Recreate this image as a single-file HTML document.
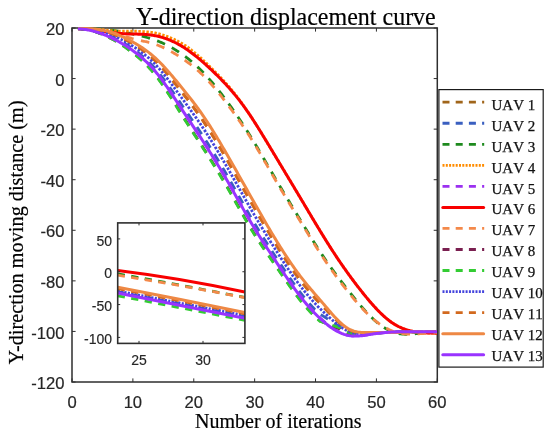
<!DOCTYPE html>
<html><head><meta charset="utf-8"><style>
html,body{margin:0;padding:0;background:#fff;}
svg{display:block;filter:blur(0.3px);}
.tl{font-family:'Liberation Sans',Arial,sans-serif;font-size:16.6px;fill:#262626;stroke:#262626;stroke-width:0.2px;}
.ti{font-family:'Liberation Sans',Arial,sans-serif;font-size:14px;fill:#262626;stroke:#262626;stroke-width:0.15px;}
.lg{font-family:'Liberation Serif','Times New Roman',serif;font-size:15px;fill:#111;stroke:#111;stroke-width:0.25px;font-kerning:none;}
.se{font-family:'Liberation Serif','Times New Roman',serif;fill:#000;stroke:#000;stroke-width:0.2px;}
</style></head><body>
<svg width="550" height="433" viewBox="0 0 550 433">
<rect width="550" height="433" fill="#fff"/>
<defs><clipPath id="cm"><rect x="72.0" y="27.3" width="365.30" height="354.7"/></clipPath>
<clipPath id="ci"><rect x="117.7" y="222.9" width="127.20" height="120.50"/></clipPath></defs>
<g stroke="#2e2e2e" stroke-width="1">
<line x1="72.00" y1="382.0" x2="72.00" y2="378.4" />
<line x1="72.00" y1="28.0" x2="72.00" y2="31.6" />
<line x1="132.88" y1="382.0" x2="132.88" y2="378.4" />
<line x1="132.88" y1="28.0" x2="132.88" y2="31.6" />
<line x1="193.77" y1="382.0" x2="193.77" y2="378.4" />
<line x1="193.77" y1="28.0" x2="193.77" y2="31.6" />
<line x1="254.65" y1="382.0" x2="254.65" y2="378.4" />
<line x1="254.65" y1="28.0" x2="254.65" y2="31.6" />
<line x1="315.53" y1="382.0" x2="315.53" y2="378.4" />
<line x1="315.53" y1="28.0" x2="315.53" y2="31.6" />
<line x1="376.42" y1="382.0" x2="376.42" y2="378.4" />
<line x1="376.42" y1="28.0" x2="376.42" y2="31.6" />
<line x1="437.30" y1="382.0" x2="437.30" y2="378.4" />
<line x1="437.30" y1="28.0" x2="437.30" y2="31.6" />
<line x1="72.0" y1="28.00" x2="75.6" y2="28.00" />
<line x1="437.3" y1="28.00" x2="433.7" y2="28.00" />
<line x1="72.0" y1="78.57" x2="75.6" y2="78.57" />
<line x1="437.3" y1="78.57" x2="433.7" y2="78.57" />
<line x1="72.0" y1="129.14" x2="75.6" y2="129.14" />
<line x1="437.3" y1="129.14" x2="433.7" y2="129.14" />
<line x1="72.0" y1="179.71" x2="75.6" y2="179.71" />
<line x1="437.3" y1="179.71" x2="433.7" y2="179.71" />
<line x1="72.0" y1="230.29" x2="75.6" y2="230.29" />
<line x1="437.3" y1="230.29" x2="433.7" y2="230.29" />
<line x1="72.0" y1="280.86" x2="75.6" y2="280.86" />
<line x1="437.3" y1="280.86" x2="433.7" y2="280.86" />
<line x1="72.0" y1="331.43" x2="75.6" y2="331.43" />
<line x1="437.3" y1="331.43" x2="433.7" y2="331.43" />
<line x1="72.0" y1="382.00" x2="75.6" y2="382.00" />
<line x1="437.3" y1="382.00" x2="433.7" y2="382.00" />
</g>
<rect x="72.0" y="28.0" width="365.30" height="354.0" fill="none" stroke="#2e2e2e" stroke-width="1.5"/>
<g clip-path="url(#cm)">
<path d="M78.00,28.34 L79.00,28.36 L80.00,28.38 L81.00,28.41 L82.00,28.44 L83.00,28.48 L84.00,28.53 L85.00,28.58 L86.00,28.64 L87.00,28.71 L88.00,28.78 L89.00,28.86 L90.00,28.96 L91.00,29.06 L92.00,29.17 L93.00,29.28 L94.00,29.41 L95.00,29.55 L96.00,29.70 L97.00,29.86 L98.00,30.03 L99.00,30.21 L100.00,30.40 L101.00,30.61 L102.00,30.82 L103.00,31.05 L104.00,31.29 L105.00,31.55 L106.00,31.81 L107.00,32.09 L108.00,32.39 L109.00,32.70 L110.00,33.02 L111.00,33.36 L112.00,33.71 L113.00,34.07 L114.00,34.45 L115.00,34.84 L116.00,35.24 L117.00,35.66 L118.00,36.08 L119.00,36.52 L120.00,36.98 L121.00,37.44 L122.00,37.91 L123.00,38.40 L124.00,38.90 L125.00,39.41 L126.00,39.93 L127.00,40.45 L128.00,40.99 L129.00,41.54 L130.00,42.10 L131.00,42.67 L132.00,43.25 L133.00,43.84 L134.00,44.44 L135.00,45.05 L136.00,45.67 L137.00,46.30 L138.00,46.94 L139.00,47.60 L140.00,48.27 L141.00,48.96 L142.00,49.66 L143.00,50.37 L144.00,51.10 L145.00,51.85 L146.00,52.62 L147.00,53.40 L148.00,54.20 L149.00,55.02 L150.00,55.86 L151.00,56.72 L152.00,57.60 L153.00,58.51 L154.00,59.43 L155.00,60.38 L156.00,61.35 L157.00,62.35 L158.00,63.36 L159.00,64.41 L160.00,65.47 L161.00,66.55 L162.00,67.65 L163.00,68.77 L164.00,69.91 L165.00,71.06 L166.00,72.23 L167.00,73.41 L168.00,74.61 L169.00,75.82 L170.00,77.04 L171.00,78.27 L172.00,79.51 L173.00,80.76 L174.00,82.02 L175.00,83.28 L176.00,84.55 L177.00,85.82 L178.00,87.10 L179.00,88.38 L180.00,89.66 L181.00,90.95 L182.00,92.23 L183.00,93.52 L184.00,94.81 L185.00,96.10 L186.00,97.39 L187.00,98.70 L188.00,100.00 L189.00,101.31 L190.00,102.63 L191.00,103.96 L192.00,105.29 L193.00,106.63 L194.00,107.99 L195.00,109.35 L196.00,110.72 L197.00,112.10 L198.00,113.50 L199.00,114.90 L200.00,116.32 L201.00,117.76 L202.00,119.21 L203.00,120.67 L204.00,122.15 L205.00,123.64 L206.00,125.16 L207.00,126.68 L208.00,128.22 L209.00,129.78 L210.00,131.35 L211.00,132.93 L212.00,134.53 L213.00,136.14 L214.00,137.76 L215.00,139.39 L216.00,141.04 L217.00,142.69 L218.00,144.35 L219.00,146.03 L220.00,147.71 L221.00,149.40 L222.00,151.10 L223.00,152.81 L224.00,154.53 L225.00,156.25 L226.00,157.98 L227.00,159.71 L228.00,161.45 L229.00,163.19 L230.00,164.94 L231.00,166.70 L232.00,168.45 L233.00,170.21 L234.00,171.98 L235.00,173.74 L236.00,175.51 L237.00,177.28 L238.00,179.05 L239.00,180.82 L240.00,182.60 L241.00,184.37 L242.00,186.14 L243.00,187.92 L244.00,189.69 L245.00,191.46 L246.00,193.23 L247.00,195.00 L248.00,196.77 L249.00,198.53 L250.00,200.29 L251.00,202.05 L252.00,203.81 L253.00,205.56 L254.00,207.30 L255.00,209.05 L256.00,210.78 L257.00,212.52 L258.00,214.24 L259.00,215.97 L260.00,217.68 L261.00,219.40 L262.00,221.10 L263.00,222.81 L264.00,224.50 L265.00,226.19 L266.00,227.87 L267.00,229.55 L268.00,231.22 L269.00,232.89 L270.00,234.54 L271.00,236.19 L272.00,237.84 L273.00,239.47 L274.00,241.10 L275.00,242.72 L276.00,244.34 L277.00,245.94 L278.00,247.54 L279.00,249.13 L280.00,250.71 L281.00,252.28 L282.00,253.84 L283.00,255.39 L284.00,256.93 L285.00,258.46 L286.00,259.98 L287.00,261.48 L288.00,262.98 L289.00,264.46 L290.00,265.93 L291.00,267.38 L292.00,268.83 L293.00,270.25 L294.00,271.67 L295.00,273.07 L296.00,274.45 L297.00,275.82 L298.00,277.17 L299.00,278.51 L300.00,279.83 L301.00,281.13 L302.00,282.42 L303.00,283.69 L304.00,284.94 L305.00,286.19 L306.00,287.41 L307.00,288.63 L308.00,289.83 L309.00,291.02 L310.00,292.20 L311.00,293.38 L312.00,294.54 L313.00,295.69 L314.00,296.84 L315.00,297.98 L316.00,299.11 L317.00,300.24 L318.00,301.36 L319.00,302.39 L320.00,303.41 L321.00,304.43 L322.00,305.46 L323.00,306.48 L324.00,307.51 L325.00,308.55 L326.00,309.58 L327.00,310.62 L328.00,311.65 L329.00,312.68 L330.00,313.71 L331.00,314.73 L332.00,315.74 L333.00,316.74 L334.00,317.72 L335.00,318.69 L336.00,319.64 L337.00,320.57 L338.00,321.48 L339.00,322.42 L340.00,323.33 L341.00,324.20 L342.00,325.04 L343.00,325.84 L344.00,326.60 L345.00,327.32 L346.00,327.99 L347.00,328.61 L348.00,329.18 L349.00,329.70 L350.00,330.17 L351.00,330.60 L352.00,330.98 L353.00,331.31 L354.00,331.61 L355.00,331.87 L356.00,332.09 L357.00,332.28 L358.00,332.43 L359.00,332.56 L360.00,332.67 L361.00,332.74 L362.00,332.80 L363.00,332.84 L364.00,332.86 L365.00,332.86 L366.00,332.85 L367.00,332.84 L368.00,332.81 L369.00,332.78 L370.00,332.75 L371.00,332.71 L372.00,332.68 L373.00,332.65 L374.00,332.62 L375.00,332.60 L376.00,332.58 L377.00,332.57 L378.00,332.55 L379.00,332.54 L380.00,332.53 L381.00,332.52 L382.00,332.52 L383.00,332.51 L384.00,332.51 L385.00,332.50 L386.00,332.50 L387.00,332.50 L388.00,332.49 L389.00,332.49 L390.00,332.48 L391.00,332.48 L392.00,332.47 L393.00,332.46 L394.00,332.44 L395.00,332.43 L396.00,332.41 L397.00,332.39 L398.00,332.37 L399.00,332.34 L400.00,332.32 L401.00,332.29 L402.00,332.25 L403.00,332.22 L404.00,332.19 L405.00,332.15 L406.00,332.12 L407.00,332.08 L408.00,332.05 L409.00,332.01 L410.00,331.97 L411.00,331.94 L412.00,331.91 L413.00,331.87 L414.00,331.84 L415.00,331.81 L416.00,331.79 L417.00,331.76 L418.00,331.74 L419.00,331.72 L420.00,331.70 L421.00,331.69 L422.00,331.68 L423.00,331.67 L424.00,331.66 L425.00,331.66 L426.00,331.66 L427.00,331.66 L428.00,331.67 L429.00,331.67 L430.00,331.68 L431.00,331.69 L432.00,331.70 L433.00,331.71 L434.00,331.72 L435.00,331.73 L436.00,331.74 L437.00,331.75" fill="none" stroke="#a0651a" stroke-width="2.8" stroke-dasharray="8.54 7.56" stroke-linejoin="round"/>
<path d="M78.00,28.59 L79.00,28.64 L80.00,28.71 L81.00,28.78 L82.00,28.86 L83.00,28.96 L84.00,29.07 L85.00,29.19 L86.00,29.32 L87.00,29.46 L88.00,29.62 L89.00,29.79 L90.00,29.97 L91.00,30.17 L92.00,30.38 L93.00,30.59 L94.00,30.83 L95.00,31.07 L96.00,31.33 L97.00,31.59 L98.00,31.87 L99.00,32.17 L100.00,32.47 L101.00,32.78 L102.00,33.11 L103.00,33.45 L104.00,33.80 L105.00,34.17 L106.00,34.54 L107.00,34.93 L108.00,35.32 L109.00,35.73 L110.00,36.15 L111.00,36.59 L112.00,37.03 L113.00,37.48 L114.00,37.95 L115.00,38.43 L116.00,38.92 L117.00,39.42 L118.00,39.93 L119.00,40.46 L120.00,40.99 L121.00,41.54 L122.00,42.10 L123.00,42.67 L124.00,43.25 L125.00,43.84 L126.00,44.45 L127.00,45.06 L128.00,45.69 L129.00,46.33 L130.00,46.98 L131.00,47.64 L132.00,48.32 L133.00,49.00 L134.00,49.70 L135.00,50.41 L136.00,51.13 L137.00,51.87 L138.00,52.62 L139.00,53.39 L140.00,54.18 L141.00,54.98 L142.00,55.80 L143.00,56.63 L144.00,57.49 L145.00,58.37 L146.00,59.26 L147.00,60.18 L148.00,61.12 L149.00,62.08 L150.00,63.07 L151.00,64.07 L152.00,65.11 L153.00,66.16 L154.00,67.25 L155.00,68.36 L156.00,69.50 L157.00,70.66 L158.00,71.85 L159.00,73.07 L160.00,74.31 L161.00,75.58 L162.00,76.87 L163.00,78.18 L164.00,79.50 L165.00,80.85 L166.00,82.21 L167.00,83.59 L168.00,84.98 L169.00,86.38 L170.00,87.80 L171.00,89.22 L172.00,90.66 L173.00,92.10 L174.00,93.55 L175.00,95.01 L176.00,96.46 L177.00,97.92 L178.00,99.39 L179.00,100.85 L180.00,102.31 L181.00,103.77 L182.00,105.22 L183.00,106.67 L184.00,108.13 L185.00,109.58 L186.00,111.03 L187.00,112.48 L188.00,113.93 L189.00,115.39 L190.00,116.84 L191.00,118.30 L192.00,119.75 L193.00,121.22 L194.00,122.68 L195.00,124.15 L196.00,125.63 L197.00,127.10 L198.00,128.59 L199.00,130.08 L200.00,131.58 L201.00,133.08 L202.00,134.59 L203.00,136.11 L204.00,137.64 L205.00,139.18 L206.00,140.72 L207.00,142.28 L208.00,143.84 L209.00,145.41 L210.00,146.99 L211.00,148.59 L212.00,150.18 L213.00,151.79 L214.00,153.41 L215.00,155.03 L216.00,156.67 L217.00,158.31 L218.00,159.96 L219.00,161.62 L220.00,163.29 L221.00,164.96 L222.00,166.65 L223.00,168.34 L224.00,170.04 L225.00,171.75 L226.00,173.47 L227.00,175.19 L228.00,176.92 L229.00,178.67 L230.00,180.42 L231.00,182.17 L232.00,183.93 L233.00,185.70 L234.00,187.47 L235.00,189.24 L236.00,191.02 L237.00,192.79 L238.00,194.57 L239.00,196.35 L240.00,198.13 L241.00,199.90 L242.00,201.67 L243.00,203.44 L244.00,205.21 L245.00,206.97 L246.00,208.72 L247.00,210.47 L248.00,212.21 L249.00,213.94 L250.00,215.66 L251.00,217.37 L252.00,219.07 L253.00,220.76 L254.00,222.43 L255.00,224.10 L256.00,225.75 L257.00,227.40 L258.00,229.03 L259.00,230.66 L260.00,232.27 L261.00,233.88 L262.00,235.48 L263.00,237.07 L264.00,238.65 L265.00,240.23 L266.00,241.80 L267.00,243.36 L268.00,244.92 L269.00,246.48 L270.00,248.02 L271.00,249.57 L272.00,251.11 L273.00,252.65 L274.00,254.18 L275.00,255.71 L276.00,257.24 L277.00,258.77 L278.00,260.30 L279.00,261.82 L280.00,263.34 L281.00,264.85 L282.00,266.37 L283.00,267.87 L284.00,269.37 L285.00,270.86 L286.00,272.35 L287.00,273.82 L288.00,275.29 L289.00,276.75 L290.00,278.20 L291.00,279.64 L292.00,281.06 L293.00,282.48 L294.00,283.88 L295.00,285.27 L296.00,286.64 L297.00,288.00 L298.00,289.34 L299.00,290.67 L300.00,291.98 L301.00,293.28 L302.00,294.55 L303.00,295.81 L304.00,297.05 L305.00,298.28 L306.00,299.49 L307.00,300.68 L308.00,301.85 L309.00,303.01 L310.00,304.15 L311.00,305.28 L312.00,306.38 L313.00,307.48 L314.00,308.55 L315.00,309.62 L316.00,310.66 L317.00,311.69 L318.00,312.71 L319.00,313.38 L320.00,314.04 L321.00,314.70 L322.00,315.35 L323.00,316.00 L324.00,316.65 L325.00,317.29 L326.00,317.94 L327.00,318.58 L328.00,319.23 L329.00,319.87 L330.00,320.51 L331.00,321.15 L332.00,321.78 L333.00,322.41 L334.00,323.04 L335.00,323.66 L336.00,324.27 L337.00,324.87 L338.00,325.46 L339.00,326.23 L340.00,326.97 L341.00,327.68 L342.00,328.36 L343.00,329.00 L344.00,329.60 L345.00,330.16 L346.00,330.68 L347.00,331.17 L348.00,331.60 L349.00,332.00 L350.00,332.35 L351.00,332.65 L352.00,332.92 L353.00,333.15 L354.00,333.35 L355.00,333.51 L356.00,333.65 L357.00,333.75 L358.00,333.83 L359.00,333.88 L360.00,333.91 L361.00,333.92 L362.00,333.91 L363.00,333.88 L364.00,333.84 L365.00,333.79 L366.00,333.72 L367.00,333.65 L368.00,333.58 L369.00,333.50 L370.00,333.41 L371.00,333.33 L372.00,333.25 L373.00,333.17 L374.00,333.10 L375.00,333.03 L376.00,332.97 L377.00,332.91 L378.00,332.85 L379.00,332.79 L380.00,332.74 L381.00,332.70 L382.00,332.65 L383.00,332.61 L384.00,332.57 L385.00,332.53 L386.00,332.49 L387.00,332.46 L388.00,332.43 L389.00,332.40 L390.00,332.37 L391.00,332.34 L392.00,332.31 L393.00,332.28 L394.00,332.26 L395.00,332.23 L396.00,332.20 L397.00,332.18 L398.00,332.15 L399.00,332.13 L400.00,332.10 L401.00,332.07 L402.00,332.05 L403.00,332.02 L404.00,332.00 L405.00,331.98 L406.00,331.95 L407.00,331.93 L408.00,331.91 L409.00,331.89 L410.00,331.87 L411.00,331.85 L412.00,331.83 L413.00,331.81 L414.00,331.79 L415.00,331.78 L416.00,331.76 L417.00,331.75 L418.00,331.74 L419.00,331.73 L420.00,331.72 L421.00,331.72 L422.00,331.71 L423.00,331.71 L424.00,331.70 L425.00,331.70 L426.00,331.70 L427.00,331.70 L428.00,331.70 L429.00,331.70 L430.00,331.71 L431.00,331.71 L432.00,331.71 L433.00,331.72 L434.00,331.72 L435.00,331.73 L436.00,331.73 L437.00,331.74" fill="none" stroke="#3a5fc0" stroke-width="2.8" stroke-dasharray="8.54 7.56" stroke-linejoin="round"/>
<path d="M78.00,28.53 L79.00,28.55 L80.00,28.58 L81.00,28.60 L82.00,28.62 L83.00,28.64 L84.00,28.66 L85.00,28.68 L86.00,28.71 L87.00,28.73 L88.00,28.75 L89.00,28.77 L90.00,28.79 L91.00,28.82 L92.00,28.85 L93.00,28.87 L94.00,28.91 L95.00,28.94 L96.00,28.98 L97.00,29.02 L98.00,29.06 L99.00,29.11 L100.00,29.17 L101.00,29.22 L102.00,29.29 L103.00,29.35 L104.00,29.43 L105.00,29.51 L106.00,29.60 L107.00,29.69 L108.00,29.79 L109.00,29.90 L110.00,30.01 L111.00,30.13 L112.00,30.26 L113.00,30.40 L114.00,30.54 L115.00,30.69 L116.00,30.84 L117.00,31.00 L118.00,31.16 L119.00,31.33 L120.00,31.51 L121.00,31.68 L122.00,31.87 L123.00,32.05 L124.00,32.24 L125.00,32.44 L126.00,32.63 L127.00,32.84 L128.00,33.04 L129.00,33.24 L130.00,33.45 L131.00,33.66 L132.00,33.88 L133.00,34.09 L134.00,34.31 L135.00,34.53 L136.00,34.75 L137.00,34.97 L138.00,35.20 L139.00,35.44 L140.00,35.67 L141.00,35.92 L142.00,36.16 L143.00,36.42 L144.00,36.68 L145.00,36.94 L146.00,37.21 L147.00,37.49 L148.00,37.78 L149.00,38.08 L150.00,38.38 L151.00,38.69 L152.00,39.02 L153.00,39.35 L154.00,39.69 L155.00,40.04 L156.00,40.40 L157.00,40.78 L158.00,41.16 L159.00,41.56 L160.00,41.97 L161.00,42.39 L162.00,42.82 L163.00,43.26 L164.00,43.72 L165.00,44.19 L166.00,44.67 L167.00,45.16 L168.00,45.67 L169.00,46.19 L170.00,46.72 L171.00,47.27 L172.00,47.82 L173.00,48.39 L174.00,48.98 L175.00,49.58 L176.00,50.19 L177.00,50.82 L178.00,51.46 L179.00,52.11 L180.00,52.78 L181.00,53.46 L182.00,54.16 L183.00,54.87 L184.00,55.60 L185.00,56.34 L186.00,57.09 L187.00,57.87 L188.00,58.65 L189.00,59.45 L190.00,60.27 L191.00,61.10 L192.00,61.95 L193.00,62.81 L194.00,63.69 L195.00,64.59 L196.00,65.50 L197.00,66.42 L198.00,67.36 L199.00,68.32 L200.00,69.30 L201.00,70.29 L202.00,71.30 L203.00,72.32 L204.00,73.36 L205.00,74.42 L206.00,75.49 L207.00,76.58 L208.00,77.69 L209.00,78.81 L210.00,79.94 L211.00,81.10 L212.00,82.26 L213.00,83.44 L214.00,84.64 L215.00,85.85 L216.00,87.07 L217.00,88.31 L218.00,89.56 L219.00,90.82 L220.00,92.10 L221.00,93.39 L222.00,94.69 L223.00,96.00 L224.00,97.33 L225.00,98.66 L226.00,100.01 L227.00,101.37 L228.00,102.74 L229.00,104.12 L230.00,105.50 L231.00,106.90 L232.00,108.31 L233.00,109.74 L234.00,111.17 L235.00,112.61 L236.00,114.06 L237.00,115.52 L238.00,117.00 L239.00,118.48 L240.00,119.98 L241.00,121.48 L242.00,123.00 L243.00,124.53 L244.00,126.07 L245.00,127.62 L246.00,129.18 L247.00,130.75 L248.00,132.33 L249.00,133.92 L250.00,135.53 L251.00,137.15 L252.00,138.77 L253.00,140.41 L254.00,142.06 L255.00,143.72 L256.00,145.38 L257.00,147.06 L258.00,148.74 L259.00,150.44 L260.00,152.13 L261.00,153.83 L262.00,155.54 L263.00,157.25 L264.00,158.97 L265.00,160.69 L266.00,162.41 L267.00,164.13 L268.00,165.85 L269.00,167.58 L270.00,169.30 L271.00,171.02 L272.00,172.74 L273.00,174.46 L274.00,176.17 L275.00,177.88 L276.00,179.58 L277.00,181.28 L278.00,182.98 L279.00,184.66 L280.00,186.35 L281.00,188.03 L282.00,189.70 L283.00,191.38 L284.00,193.04 L285.00,194.71 L286.00,196.37 L287.00,198.03 L288.00,199.68 L289.00,201.34 L290.00,202.99 L291.00,204.64 L292.00,206.28 L293.00,207.93 L294.00,209.57 L295.00,211.22 L296.00,212.86 L297.00,214.50 L298.00,216.15 L299.00,217.79 L300.00,219.43 L301.00,221.07 L302.00,222.72 L303.00,224.36 L304.00,226.00 L305.00,227.64 L306.00,229.27 L307.00,230.91 L308.00,232.54 L309.00,234.16 L310.00,235.78 L311.00,237.39 L312.00,239.00 L313.00,240.60 L314.00,242.20 L315.00,243.78 L316.00,245.36 L317.00,246.93 L318.00,248.49 L319.00,250.03 L320.00,251.57 L321.00,253.10 L322.00,254.61 L323.00,256.11 L324.00,257.59 L325.00,259.07 L326.00,260.52 L327.00,261.97 L328.00,263.40 L329.00,264.82 L330.00,266.23 L331.00,267.63 L332.00,269.01 L333.00,270.39 L334.00,271.75 L335.00,273.11 L336.00,274.46 L337.00,275.80 L338.00,277.13 L339.00,278.45 L340.00,279.76 L341.00,281.07 L342.00,282.38 L343.00,283.67 L344.00,284.97 L345.00,286.25 L346.00,287.54 L347.00,288.81 L348.00,290.09 L349.00,291.36 L350.00,292.63 L351.00,293.90 L352.00,295.15 L353.00,296.41 L354.00,297.65 L355.00,298.89 L356.00,300.12 L357.00,301.33 L358.00,302.54 L359.00,303.74 L360.00,304.92 L361.00,306.09 L362.00,307.25 L363.00,308.39 L364.00,309.52 L365.00,310.63 L366.00,311.72 L367.00,312.79 L368.00,313.85 L369.00,314.88 L370.00,315.90 L371.00,316.89 L372.00,317.86 L373.00,318.80 L374.00,319.73 L375.00,320.63 L376.00,321.50 L377.00,322.35 L378.00,323.17 L379.00,323.97 L380.00,324.74 L381.00,325.48 L382.00,326.19 L383.00,326.88 L384.00,327.54 L385.00,328.17 L386.00,328.77 L387.00,329.34 L388.00,329.88 L389.00,330.39 L390.00,330.87 L391.00,331.31 L392.00,331.73 L393.00,332.11 L394.00,332.46 L395.00,332.77 L396.00,333.05 L397.00,333.30 L398.00,333.51 L399.00,333.70 L400.00,333.85 L401.00,333.98 L402.00,334.08 L403.00,334.15 L404.00,334.20 L405.00,334.23 L406.00,334.25 L407.00,334.24 L408.00,334.22 L409.00,334.18 L410.00,334.14 L411.00,334.08 L412.00,334.01 L413.00,333.93 L414.00,333.85 L415.00,333.76 L416.00,333.67 L417.00,333.58 L418.00,333.49 L419.00,333.41 L420.00,333.32 L421.00,333.25 L422.00,333.18 L423.00,333.11 L424.00,333.05 L425.00,332.99 L426.00,332.94 L427.00,332.89 L428.00,332.85 L429.00,332.81 L430.00,332.78 L431.00,332.75 L432.00,332.72 L433.00,332.70 L434.00,332.68 L435.00,332.66 L436.00,332.64 L437.00,332.63" fill="none" stroke="#1e8a1e" stroke-width="2.8" stroke-dasharray="8.54 7.56" stroke-linejoin="round"/>
<path d="M78.00,28.63 L79.00,28.62 L80.00,28.62 L81.00,28.62 L82.00,28.62 L83.00,28.63 L84.00,28.65 L85.00,28.66 L86.00,28.69 L87.00,28.71 L88.00,28.74 L89.00,28.78 L90.00,28.82 L91.00,28.86 L92.00,28.91 L93.00,28.96 L94.00,29.02 L95.00,29.08 L96.00,29.14 L97.00,29.21 L98.00,29.28 L99.00,29.35 L100.00,29.42 L101.00,29.53 L102.00,29.64 L103.00,29.76 L104.00,29.87 L105.00,29.98 L106.00,30.10 L107.00,30.21 L108.00,30.32 L109.00,30.43 L110.00,30.53 L111.00,30.60 L112.00,30.67 L113.00,30.74 L114.00,30.80 L115.00,30.86 L116.00,30.91 L117.00,30.96 L118.00,31.00 L119.00,31.03 L120.00,31.06 L121.00,31.09 L122.00,31.12 L123.00,31.13 L124.00,31.14 L125.00,31.14 L126.00,31.14 L127.00,31.13 L128.00,31.11 L129.00,31.09 L130.00,31.07 L131.00,31.10 L132.00,31.13 L133.00,31.16 L134.00,31.19 L135.00,31.22 L136.00,31.25 L137.00,31.28 L138.00,31.31 L139.00,31.35 L140.00,31.39 L141.00,31.44 L142.00,31.49 L143.00,31.55 L144.00,31.61 L145.00,31.69 L146.00,31.77 L147.00,31.86 L148.00,31.96 L149.00,32.07 L150.00,32.20 L151.00,32.33 L152.00,32.47 L153.00,32.63 L154.00,32.80 L155.00,32.99 L156.00,33.20 L157.00,33.41 L158.00,33.65 L159.00,33.89 L160.00,34.16 L161.00,34.43 L162.00,34.73 L163.00,35.03 L164.00,35.36 L165.00,35.69 L166.00,36.05 L167.00,36.42 L168.00,36.80 L169.00,37.20 L170.00,37.61 L171.00,38.02 L172.00,38.45 L173.00,38.89 L174.00,39.34 L175.00,39.81 L176.00,40.30 L177.00,40.80 L178.00,41.32 L179.00,41.86 L180.00,42.41 L181.00,42.97 L182.00,43.55 L183.00,44.15 L184.00,44.76 L185.00,45.39 L186.00,46.04 L187.00,46.70 L188.00,47.37 L189.00,48.13 L190.00,48.90 L191.00,49.68 L192.00,50.48 L193.00,51.29 L194.00,52.11 L195.00,52.95 L196.00,53.80 L197.00,54.65 L198.00,55.51 L199.00,56.39 L200.00,57.28 L201.00,58.17 L202.00,59.08 L203.00,60.00 L204.00,60.92 L205.00,61.86 L206.00,62.80 L207.00,63.76 L208.00,64.72 L209.00,65.69 L210.00,66.66 L211.00,67.64 L212.00,68.63 L213.00,69.63 L214.00,70.63 L215.00,71.63 L216.00,72.65 L217.00,73.67 L218.00,74.70 L219.00,75.74 L220.00,76.79 L221.00,77.85 L222.00,78.92 L223.00,80.00 L224.00,81.09 L225.00,82.19 L226.00,83.31 L227.00,84.45 L228.00,85.59 L229.00,86.75 L230.00,87.93 L231.00,89.12 L232.00,90.32 L233.00,91.54 L234.00,92.77 L235.00,94.02 L236.00,95.29 L237.00,96.58 L238.00,97.88 L239.00,99.23 L240.00,100.59 L241.00,101.98 L242.00,103.38 L243.00,104.80 L244.00,106.25 L245.00,107.71 L246.00,109.20 L247.00,110.70 L248.00,112.22 L249.00,113.69 L250.00,115.18 L251.00,116.68 L252.00,118.19 L253.00,119.72 L254.00,121.27 L255.00,122.82 L256.00,124.39 L257.00,125.97 L258.00,127.56 L259.00,129.17 L260.00,130.78 L261.00,132.40 L262.00,134.02 L263.00,135.66 L264.00,137.30 L265.00,138.95 L266.00,140.60 L267.00,142.26 L268.00,143.92 L269.00,145.58 L270.00,147.25 L271.00,148.92 L272.00,150.59 L273.00,152.25 L274.00,153.92 L275.00,155.59 L276.00,157.26 L277.00,158.93 L278.00,160.59 L279.00,162.26 L280.00,163.93 L281.00,165.59 L282.00,167.26 L283.00,168.93 L284.00,170.59 L285.00,172.26 L286.00,173.92 L287.00,175.59 L288.00,177.26 L289.00,178.93 L290.00,180.59 L291.00,182.26 L292.00,183.93 L293.00,185.60 L294.00,187.27 L295.00,188.94 L296.00,190.61 L297.00,192.28 L298.00,193.96 L299.00,195.63 L300.00,197.31 L301.00,198.98 L302.00,200.66 L303.00,202.34 L304.00,204.02 L305.00,205.70 L306.00,207.38 L307.00,209.06 L308.00,210.74 L309.00,212.42 L310.00,214.10 L311.00,215.77 L312.00,217.45 L313.00,219.12 L314.00,220.79 L315.00,222.46 L316.00,224.12 L317.00,225.78 L318.00,227.44 L319.00,229.09 L320.00,230.73 L321.00,232.37 L322.00,234.01 L323.00,235.63 L324.00,237.26 L325.00,238.87 L326.00,240.48 L327.00,242.08 L328.00,243.67 L329.00,245.25 L330.00,246.83 L331.00,248.39 L332.00,249.95 L333.00,251.49 L334.00,253.03 L335.00,254.55 L336.00,256.06 L337.00,257.57 L338.00,259.06 L339.00,260.54 L340.00,262.02 L341.00,263.48 L342.00,264.93 L343.00,266.38 L344.00,267.81 L345.00,269.23 L346.00,270.64 L347.00,272.05 L348.00,273.44 L349.00,274.82 L350.00,276.20 L351.00,277.56 L352.00,278.92 L353.00,280.26 L354.00,281.60 L355.00,282.92 L356.00,284.24 L357.00,285.55 L358.00,286.84 L359.00,288.13 L360.00,289.41 L361.00,290.68 L362.00,291.94 L363.00,293.19 L364.00,294.44 L365.00,295.67 L366.00,296.89 L367.00,298.10 L368.00,299.30 L369.00,300.49 L370.00,301.66 L371.00,302.82 L372.00,303.97 L373.00,305.09 L374.00,306.21 L375.00,307.30 L376.00,308.38 L377.00,309.44 L378.00,310.48 L379.00,311.50 L380.00,312.50 L381.00,313.48 L382.00,314.44 L383.00,315.38 L384.00,316.29 L385.00,317.18 L386.00,318.04 L387.00,318.88 L388.00,319.69 L389.00,320.47 L390.00,321.23 L391.00,321.96 L392.00,322.66 L393.00,323.33 L394.00,323.97 L395.00,324.58 L396.00,325.16 L397.00,325.72 L398.00,326.24 L399.00,326.74 L400.00,327.21 L401.00,327.66 L402.00,328.09 L403.00,328.49 L404.00,328.86 L405.00,329.22 L406.00,329.55 L407.00,329.86 L408.00,330.16 L409.00,330.43 L410.00,330.69 L411.00,330.92 L412.00,331.14 L413.00,331.35 L414.00,331.54 L415.00,331.71 L416.00,331.87 L417.00,332.02 L418.00,332.15 L419.00,332.27 L420.00,332.38 L421.00,332.49 L422.00,332.58 L423.00,332.66 L424.00,332.73 L425.00,332.80 L426.00,332.86 L427.00,332.91 L428.00,332.96 L429.00,333.00 L430.00,333.03 L431.00,333.06 L432.00,333.09 L433.00,333.10 L434.00,333.12 L435.00,333.13 L436.00,333.13 L437.00,333.13" fill="none" stroke="#ff8c00" stroke-width="2.8" stroke-dasharray="2.44 1.59" stroke-linejoin="round"/>
<path d="M78.00,28.67 L79.00,28.74 L80.00,28.81 L81.00,28.90 L82.00,29.00 L83.00,29.12 L84.00,29.25 L85.00,29.39 L86.00,29.54 L87.00,29.71 L88.00,29.90 L89.00,30.10 L90.00,30.31 L91.00,30.54 L92.00,30.77 L93.00,31.03 L94.00,31.29 L95.00,31.57 L96.00,31.86 L97.00,32.16 L98.00,32.48 L99.00,32.81 L100.00,33.15 L101.00,33.50 L102.00,33.86 L103.00,34.24 L104.00,34.63 L105.00,35.02 L106.00,35.43 L107.00,35.85 L108.00,36.28 L109.00,36.72 L110.00,37.17 L111.00,37.64 L112.00,38.11 L113.00,38.59 L114.00,39.09 L115.00,39.60 L116.00,40.11 L117.00,40.64 L118.00,41.18 L119.00,41.73 L120.00,42.29 L121.00,42.87 L122.00,43.45 L123.00,44.05 L124.00,44.65 L125.00,45.27 L126.00,45.90 L127.00,46.55 L128.00,47.20 L129.00,47.87 L130.00,48.55 L131.00,49.24 L132.00,49.94 L133.00,50.66 L134.00,51.38 L135.00,52.13 L136.00,52.88 L137.00,53.65 L138.00,54.44 L139.00,55.24 L140.00,56.06 L141.00,56.90 L142.00,57.75 L143.00,58.63 L144.00,59.52 L145.00,60.44 L146.00,61.37 L147.00,62.33 L148.00,63.31 L149.00,64.32 L150.00,65.35 L151.00,66.40 L152.00,67.48 L153.00,68.58 L154.00,69.72 L155.00,70.88 L156.00,72.06 L157.00,73.28 L158.00,74.53 L159.00,75.80 L160.00,77.10 L161.00,78.42 L162.00,79.76 L163.00,81.13 L164.00,82.51 L165.00,83.91 L166.00,85.33 L167.00,86.77 L168.00,88.22 L169.00,89.68 L170.00,91.15 L171.00,92.64 L172.00,94.13 L173.00,95.63 L174.00,97.14 L175.00,98.65 L176.00,100.16 L177.00,101.68 L178.00,103.19 L179.00,104.71 L180.00,106.22 L181.00,107.73 L182.00,109.24 L183.00,110.74 L184.00,112.24 L185.00,113.74 L186.00,115.23 L187.00,116.73 L188.00,118.22 L189.00,119.71 L190.00,121.21 L191.00,122.70 L192.00,124.19 L193.00,125.69 L194.00,127.18 L195.00,128.68 L196.00,130.19 L197.00,131.69 L198.00,133.20 L199.00,134.71 L200.00,136.23 L201.00,137.75 L202.00,139.28 L203.00,140.81 L204.00,142.35 L205.00,143.90 L206.00,145.45 L207.00,147.01 L208.00,148.58 L209.00,150.15 L210.00,151.73 L211.00,153.32 L212.00,154.92 L213.00,156.52 L214.00,158.13 L215.00,159.75 L216.00,161.38 L217.00,163.01 L218.00,164.65 L219.00,166.31 L220.00,167.96 L221.00,169.63 L222.00,171.31 L223.00,172.99 L224.00,174.68 L225.00,176.39 L226.00,178.10 L227.00,179.82 L228.00,181.54 L229.00,183.28 L230.00,185.03 L231.00,186.78 L232.00,188.54 L233.00,190.30 L234.00,192.07 L235.00,193.84 L236.00,195.62 L237.00,197.39 L238.00,199.17 L239.00,200.95 L240.00,202.72 L241.00,204.49 L242.00,206.26 L243.00,208.02 L244.00,209.78 L245.00,211.53 L246.00,213.28 L247.00,215.02 L248.00,216.74 L249.00,218.46 L250.00,220.17 L251.00,221.86 L252.00,223.54 L253.00,225.21 L254.00,226.86 L255.00,228.50 L256.00,230.12 L257.00,231.74 L258.00,233.34 L259.00,234.94 L260.00,236.52 L261.00,238.09 L262.00,239.65 L263.00,241.21 L264.00,242.76 L265.00,244.30 L266.00,245.83 L267.00,247.36 L268.00,248.88 L269.00,250.40 L270.00,251.92 L271.00,253.43 L272.00,254.94 L273.00,256.44 L274.00,257.95 L275.00,259.45 L276.00,260.95 L277.00,262.45 L278.00,263.96 L279.00,265.46 L280.00,266.96 L281.00,268.45 L282.00,269.95 L283.00,271.44 L284.00,272.92 L285.00,274.40 L286.00,275.87 L287.00,277.34 L288.00,278.80 L289.00,280.24 L290.00,281.68 L291.00,283.11 L292.00,284.53 L293.00,285.94 L294.00,287.34 L295.00,288.72 L296.00,290.09 L297.00,291.44 L298.00,292.78 L299.00,294.10 L300.00,295.41 L301.00,296.70 L302.00,297.97 L303.00,299.22 L304.00,300.45 L305.00,301.67 L306.00,302.87 L307.00,304.05 L308.00,305.22 L309.00,306.36 L310.00,307.49 L311.00,308.60 L312.00,309.69 L313.00,310.76 L314.00,311.82 L315.00,312.85 L316.00,313.87 L317.00,314.87 L318.00,315.86 L319.00,316.82 L320.00,317.76 L321.00,318.69 L322.00,319.60 L323.00,320.49 L324.00,321.36 L325.00,322.21 L326.00,323.05 L327.00,323.86 L328.00,324.65 L329.00,325.43 L330.00,326.18 L331.00,326.90 L332.00,327.61 L333.00,328.29 L334.00,328.94 L335.00,329.57 L336.00,330.18 L337.00,330.76 L338.00,331.31 L339.00,331.83 L340.00,332.32 L341.00,332.79 L342.00,333.22 L343.00,333.62 L344.00,333.99 L345.00,334.33 L346.00,334.64 L347.00,334.91 L348.00,335.15 L349.00,335.35 L350.00,335.52 L351.00,335.66 L352.00,335.77 L353.00,335.84 L354.00,335.89 L355.00,335.92 L356.00,335.92 L357.00,335.90 L358.00,335.86 L359.00,335.80 L360.00,335.72 L361.00,335.63 L362.00,335.52 L363.00,335.41 L364.00,335.28 L365.00,335.14 L366.00,335.00 L367.00,334.85 L368.00,334.69 L369.00,334.54 L370.00,334.38 L371.00,334.23 L372.00,334.08 L373.00,333.93 L374.00,333.79 L375.00,333.66 L376.00,333.52 L377.00,333.40 L378.00,333.28 L379.00,333.16 L380.00,333.05 L381.00,332.94 L382.00,332.84 L383.00,332.75 L384.00,332.65 L385.00,332.57 L386.00,332.48 L387.00,332.41 L388.00,332.33 L389.00,332.26 L390.00,332.20 L391.00,332.14 L392.00,332.08 L393.00,332.03 L394.00,331.98 L395.00,331.94 L396.00,331.90 L397.00,331.87 L398.00,331.84 L399.00,331.81 L400.00,331.79 L401.00,331.77 L402.00,331.75 L403.00,331.74 L404.00,331.73 L405.00,331.72 L406.00,331.72 L407.00,331.71 L408.00,331.71 L409.00,331.71 L410.00,331.71 L411.00,331.71 L412.00,331.72 L413.00,331.72 L414.00,331.72 L415.00,331.73 L416.00,331.73 L417.00,331.74 L418.00,331.74 L419.00,331.75 L420.00,331.75 L421.00,331.75 L422.00,331.76 L423.00,331.76 L424.00,331.76 L425.00,331.76 L426.00,331.75 L427.00,331.75 L428.00,331.75 L429.00,331.75 L430.00,331.74 L431.00,331.74 L432.00,331.74 L433.00,331.73 L434.00,331.73 L435.00,331.72 L436.00,331.72 L437.00,331.72" fill="none" stroke="#9b30f0" stroke-width="2.8" stroke-dasharray="8.54 7.56" stroke-linejoin="round"/>
<path d="M78.00,28.63 L79.00,28.69 L80.00,28.76 L81.00,28.82 L82.00,28.90 L83.00,28.97 L84.00,29.06 L85.00,29.14 L86.00,29.23 L87.00,29.33 L88.00,29.42 L89.00,29.53 L90.00,29.64 L91.00,29.75 L92.00,29.86 L93.00,29.98 L94.00,30.11 L95.00,30.24 L96.00,30.37 L97.00,30.50 L98.00,30.64 L99.00,30.78 L100.00,30.92 L101.00,31.06 L102.00,31.20 L103.00,31.35 L104.00,31.49 L105.00,31.63 L106.00,31.78 L107.00,31.92 L108.00,32.06 L109.00,32.20 L110.00,32.33 L111.00,32.46 L112.00,32.59 L113.00,32.72 L114.00,32.84 L115.00,32.96 L116.00,33.07 L117.00,33.18 L118.00,33.28 L119.00,33.37 L120.00,33.46 L121.00,33.54 L122.00,33.62 L123.00,33.68 L124.00,33.74 L125.00,33.79 L126.00,33.84 L127.00,33.88 L128.00,33.91 L129.00,33.94 L130.00,33.97 L131.00,33.99 L132.00,34.01 L133.00,34.03 L134.00,34.05 L135.00,34.07 L136.00,34.09 L137.00,34.11 L138.00,34.13 L139.00,34.16 L140.00,34.19 L141.00,34.23 L142.00,34.27 L143.00,34.32 L144.00,34.37 L145.00,34.44 L146.00,34.51 L147.00,34.59 L148.00,34.68 L149.00,34.78 L150.00,34.90 L151.00,35.02 L152.00,35.16 L153.00,35.32 L154.00,35.48 L155.00,35.67 L156.00,35.87 L157.00,36.08 L158.00,36.31 L159.00,36.55 L160.00,36.81 L161.00,37.08 L162.00,37.37 L163.00,37.67 L164.00,37.99 L165.00,38.32 L166.00,38.67 L167.00,39.03 L168.00,39.41 L169.00,39.80 L170.00,40.21 L171.00,40.64 L172.00,41.08 L173.00,41.54 L174.00,42.01 L175.00,42.50 L176.00,43.00 L177.00,43.52 L178.00,44.05 L179.00,44.61 L180.00,45.17 L181.00,45.75 L182.00,46.35 L183.00,46.97 L184.00,47.60 L185.00,48.24 L186.00,48.91 L187.00,49.58 L188.00,50.27 L189.00,50.98 L190.00,51.70 L191.00,52.43 L192.00,53.18 L193.00,53.94 L194.00,54.71 L195.00,55.50 L196.00,56.30 L197.00,57.11 L198.00,57.93 L199.00,58.76 L200.00,59.60 L201.00,60.46 L202.00,61.32 L203.00,62.20 L204.00,63.08 L205.00,63.97 L206.00,64.87 L207.00,65.78 L208.00,66.70 L209.00,67.63 L210.00,68.56 L211.00,69.50 L212.00,70.45 L213.00,71.41 L214.00,72.37 L215.00,73.33 L216.00,74.31 L217.00,75.29 L218.00,76.28 L219.00,77.28 L220.00,78.29 L221.00,79.31 L222.00,80.34 L223.00,81.38 L224.00,82.43 L225.00,83.49 L226.00,84.57 L227.00,85.66 L228.00,86.76 L229.00,87.87 L230.00,89.00 L231.00,90.14 L232.00,91.30 L233.00,92.47 L234.00,93.66 L235.00,94.86 L236.00,96.08 L237.00,97.32 L238.00,98.58 L239.00,99.86 L240.00,101.15 L241.00,102.47 L242.00,103.80 L243.00,105.15 L244.00,106.53 L245.00,107.92 L246.00,109.34 L247.00,110.77 L248.00,112.22 L249.00,113.69 L250.00,115.18 L251.00,116.68 L252.00,118.19 L253.00,119.72 L254.00,121.27 L255.00,122.82 L256.00,124.39 L257.00,125.97 L258.00,127.56 L259.00,129.17 L260.00,130.78 L261.00,132.40 L262.00,134.02 L263.00,135.66 L264.00,137.30 L265.00,138.95 L266.00,140.60 L267.00,142.26 L268.00,143.92 L269.00,145.58 L270.00,147.25 L271.00,148.92 L272.00,150.59 L273.00,152.25 L274.00,153.92 L275.00,155.59 L276.00,157.26 L277.00,158.93 L278.00,160.59 L279.00,162.26 L280.00,163.93 L281.00,165.59 L282.00,167.26 L283.00,168.93 L284.00,170.59 L285.00,172.26 L286.00,173.92 L287.00,175.59 L288.00,177.26 L289.00,178.93 L290.00,180.59 L291.00,182.26 L292.00,183.93 L293.00,185.60 L294.00,187.27 L295.00,188.94 L296.00,190.61 L297.00,192.28 L298.00,193.96 L299.00,195.63 L300.00,197.31 L301.00,198.98 L302.00,200.66 L303.00,202.34 L304.00,204.02 L305.00,205.70 L306.00,207.38 L307.00,209.06 L308.00,210.74 L309.00,212.42 L310.00,214.10 L311.00,215.77 L312.00,217.45 L313.00,219.12 L314.00,220.79 L315.00,222.46 L316.00,224.12 L317.00,225.78 L318.00,227.44 L319.00,229.09 L320.00,230.73 L321.00,232.37 L322.00,234.01 L323.00,235.63 L324.00,237.26 L325.00,238.87 L326.00,240.48 L327.00,242.08 L328.00,243.67 L329.00,245.25 L330.00,246.83 L331.00,248.39 L332.00,249.95 L333.00,251.49 L334.00,253.03 L335.00,254.55 L336.00,256.06 L337.00,257.57 L338.00,259.06 L339.00,260.54 L340.00,262.02 L341.00,263.48 L342.00,264.93 L343.00,266.38 L344.00,267.81 L345.00,269.23 L346.00,270.64 L347.00,272.05 L348.00,273.44 L349.00,274.82 L350.00,276.20 L351.00,277.56 L352.00,278.92 L353.00,280.26 L354.00,281.60 L355.00,282.92 L356.00,284.24 L357.00,285.55 L358.00,286.84 L359.00,288.13 L360.00,289.41 L361.00,290.68 L362.00,291.94 L363.00,293.19 L364.00,294.44 L365.00,295.67 L366.00,296.89 L367.00,298.10 L368.00,299.30 L369.00,300.49 L370.00,301.66 L371.00,302.82 L372.00,303.97 L373.00,305.09 L374.00,306.21 L375.00,307.30 L376.00,308.38 L377.00,309.44 L378.00,310.48 L379.00,311.50 L380.00,312.50 L381.00,313.48 L382.00,314.44 L383.00,315.38 L384.00,316.29 L385.00,317.18 L386.00,318.04 L387.00,318.88 L388.00,319.69 L389.00,320.47 L390.00,321.23 L391.00,321.96 L392.00,322.66 L393.00,323.33 L394.00,323.97 L395.00,324.58 L396.00,325.16 L397.00,325.72 L398.00,326.24 L399.00,326.74 L400.00,327.21 L401.00,327.66 L402.00,328.09 L403.00,328.49 L404.00,328.86 L405.00,329.22 L406.00,329.55 L407.00,329.86 L408.00,330.16 L409.00,330.43 L410.00,330.69 L411.00,330.92 L412.00,331.14 L413.00,331.35 L414.00,331.54 L415.00,331.71 L416.00,331.87 L417.00,332.02 L418.00,332.15 L419.00,332.27 L420.00,332.38 L421.00,332.49 L422.00,332.58 L423.00,332.66 L424.00,332.73 L425.00,332.80 L426.00,332.86 L427.00,332.91 L428.00,332.96 L429.00,333.00 L430.00,333.03 L431.00,333.06 L432.00,333.09 L433.00,333.10 L434.00,333.12 L435.00,333.13 L436.00,333.13 L437.00,333.13" fill="none" stroke="#f80000" stroke-width="3" stroke-linejoin="round"/>
<path d="M78.00,28.44 L79.00,28.46 L80.00,28.49 L81.00,28.51 L82.00,28.54 L83.00,28.58 L84.00,28.61 L85.00,28.66 L86.00,28.71 L87.00,28.76 L88.00,28.82 L89.00,28.88 L90.00,28.95 L91.00,29.03 L92.00,29.11 L93.00,29.20 L94.00,29.30 L95.00,29.40 L96.00,29.52 L97.00,29.64 L98.00,29.77 L99.00,29.90 L100.00,30.05 L101.00,30.20 L102.00,30.37 L103.00,30.54 L104.00,30.73 L105.00,30.92 L106.00,31.13 L107.00,31.34 L108.00,31.57 L109.00,31.81 L110.00,32.06 L111.00,32.32 L112.00,32.58 L113.00,32.86 L114.00,33.14 L115.00,33.43 L116.00,33.73 L117.00,34.02 L118.00,34.33 L119.00,34.63 L120.00,34.94 L121.00,35.25 L122.00,35.56 L123.00,35.87 L124.00,36.18 L125.00,36.48 L126.00,36.78 L127.00,37.08 L128.00,37.37 L129.00,37.66 L130.00,37.94 L131.00,38.22 L132.00,38.48 L133.00,38.74 L134.00,38.99 L135.00,39.23 L136.00,39.47 L137.00,39.70 L138.00,39.92 L139.00,40.15 L140.00,40.37 L141.00,40.59 L142.00,40.82 L143.00,41.04 L144.00,41.27 L145.00,41.50 L146.00,41.73 L147.00,41.98 L148.00,42.22 L149.00,42.48 L150.00,42.74 L151.00,43.02 L152.00,43.30 L153.00,43.60 L154.00,43.91 L155.00,44.24 L156.00,44.58 L157.00,44.94 L158.00,45.31 L159.00,45.70 L160.00,46.10 L161.00,46.52 L162.00,46.95 L163.00,47.40 L164.00,47.87 L165.00,48.34 L166.00,48.83 L167.00,49.34 L168.00,49.85 L169.00,50.38 L170.00,50.92 L171.00,51.48 L172.00,52.04 L173.00,52.62 L174.00,53.21 L175.00,53.81 L176.00,54.42 L177.00,55.03 L178.00,55.66 L179.00,56.30 L180.00,56.95 L181.00,57.61 L182.00,58.28 L183.00,58.95 L184.00,59.64 L185.00,60.34 L186.00,61.05 L187.00,61.77 L188.00,62.51 L189.00,63.25 L190.00,64.01 L191.00,64.79 L192.00,65.58 L193.00,66.38 L194.00,67.20 L195.00,68.03 L196.00,68.88 L197.00,69.75 L198.00,70.64 L199.00,71.54 L200.00,72.46 L201.00,73.40 L202.00,74.35 L203.00,75.33 L204.00,76.33 L205.00,77.35 L206.00,78.39 L207.00,79.44 L208.00,80.52 L209.00,81.61 L210.00,82.72 L211.00,83.85 L212.00,85.00 L213.00,86.16 L214.00,87.34 L215.00,88.53 L216.00,89.74 L217.00,90.96 L218.00,92.19 L219.00,93.43 L220.00,94.69 L221.00,95.96 L222.00,97.24 L223.00,98.53 L224.00,99.83 L225.00,101.14 L226.00,102.46 L227.00,103.79 L228.00,105.12 L229.00,106.46 L230.00,107.81 L231.00,109.16 L232.00,110.53 L233.00,111.90 L234.00,113.28 L235.00,114.67 L236.00,116.07 L237.00,117.48 L238.00,118.90 L239.00,120.33 L240.00,121.77 L241.00,123.22 L242.00,124.68 L243.00,126.16 L244.00,127.65 L245.00,129.15 L246.00,130.66 L247.00,132.19 L248.00,133.73 L249.00,135.29 L250.00,136.86 L251.00,138.44 L252.00,140.05 L253.00,141.66 L254.00,143.29 L255.00,144.94 L256.00,146.60 L257.00,148.27 L258.00,149.95 L259.00,151.64 L260.00,153.34 L261.00,155.04 L262.00,156.76 L263.00,158.48 L264.00,160.21 L265.00,161.94 L266.00,163.67 L267.00,165.41 L268.00,167.15 L269.00,168.89 L270.00,170.63 L271.00,172.37 L272.00,174.10 L273.00,175.84 L274.00,177.57 L275.00,179.29 L276.00,181.01 L277.00,182.72 L278.00,184.43 L279.00,186.12 L280.00,187.82 L281.00,189.50 L282.00,191.19 L283.00,192.86 L284.00,194.53 L285.00,196.20 L286.00,197.86 L287.00,199.52 L288.00,201.18 L289.00,202.83 L290.00,204.48 L291.00,206.12 L292.00,207.77 L293.00,209.41 L294.00,211.05 L295.00,212.68 L296.00,214.32 L297.00,215.95 L298.00,217.59 L299.00,219.22 L300.00,220.85 L301.00,222.48 L302.00,224.12 L303.00,225.75 L304.00,227.38 L305.00,229.00 L306.00,230.63 L307.00,232.25 L308.00,233.87 L309.00,235.48 L310.00,237.09 L311.00,238.70 L312.00,240.30 L313.00,241.89 L314.00,243.48 L315.00,245.06 L316.00,246.64 L317.00,248.20 L318.00,249.76 L319.00,251.31 L320.00,252.85 L321.00,254.38 L322.00,255.90 L323.00,257.41 L324.00,258.91 L325.00,260.40 L326.00,261.88 L327.00,263.34 L328.00,264.80 L329.00,266.24 L330.00,267.67 L331.00,269.10 L332.00,270.51 L333.00,271.91 L334.00,273.30 L335.00,274.68 L336.00,276.05 L337.00,277.41 L338.00,278.76 L339.00,280.10 L340.00,281.43 L341.00,282.75 L342.00,284.06 L343.00,285.36 L344.00,286.65 L345.00,287.93 L346.00,289.21 L347.00,290.47 L348.00,291.73 L349.00,292.97 L350.00,294.21 L351.00,295.44 L352.00,296.65 L353.00,297.86 L354.00,299.06 L355.00,300.24 L356.00,301.41 L357.00,302.57 L358.00,303.71 L359.00,304.84 L360.00,305.95 L361.00,307.05 L362.00,308.13 L363.00,309.20 L364.00,310.25 L365.00,311.28 L366.00,312.30 L367.00,313.29 L368.00,314.27 L369.00,315.22 L370.00,316.16 L371.00,317.08 L372.00,317.97 L373.00,318.84 L374.00,319.69 L375.00,320.52 L376.00,321.32 L377.00,322.10 L378.00,322.86 L379.00,323.60 L380.00,324.31 L381.00,325.00 L382.00,325.66 L383.00,326.30 L384.00,326.91 L385.00,327.50 L386.00,328.07 L387.00,328.61 L388.00,329.12 L389.00,329.61 L390.00,330.07 L391.00,330.50 L392.00,330.91 L393.00,331.29 L394.00,331.65 L395.00,331.98 L396.00,332.28 L397.00,332.55 L398.00,332.79 L399.00,333.01 L400.00,333.21 L401.00,333.38 L402.00,333.53 L403.00,333.66 L404.00,333.77 L405.00,333.86 L406.00,333.93 L407.00,333.99 L408.00,334.03 L409.00,334.05 L410.00,334.06 L411.00,334.06 L412.00,334.05 L413.00,334.03 L414.00,334.00 L415.00,333.96 L416.00,333.92 L417.00,333.87 L418.00,333.81 L419.00,333.75 L420.00,333.69 L421.00,333.63 L422.00,333.57 L423.00,333.50 L424.00,333.44 L425.00,333.38 L426.00,333.31 L427.00,333.25 L428.00,333.19 L429.00,333.13 L430.00,333.07 L431.00,333.01 L432.00,332.95 L433.00,332.90 L434.00,332.85 L435.00,332.80 L436.00,332.75 L437.00,332.71" fill="none" stroke="#f4894a" stroke-width="2.8" stroke-dasharray="8.54 7.56" stroke-linejoin="round"/>
<path d="M78.00,28.67 L79.00,28.74 L80.00,28.82 L81.00,28.91 L82.00,29.01 L83.00,29.13 L84.00,29.26 L85.00,29.41 L86.00,29.57 L87.00,29.75 L88.00,29.94 L89.00,30.15 L90.00,30.37 L91.00,30.61 L92.00,30.86 L93.00,31.13 L94.00,31.41 L95.00,31.70 L96.00,32.02 L97.00,32.35 L98.00,32.70 L99.00,33.06 L100.00,33.43 L101.00,33.82 L102.00,34.22 L103.00,34.64 L104.00,35.06 L105.00,35.51 L106.00,35.96 L107.00,36.43 L108.00,36.91 L109.00,37.40 L110.00,37.91 L111.00,38.42 L112.00,38.95 L113.00,39.49 L114.00,40.04 L115.00,40.61 L116.00,41.19 L117.00,41.78 L118.00,42.38 L119.00,42.99 L120.00,43.62 L121.00,44.26 L122.00,44.92 L123.00,45.58 L124.00,46.26 L125.00,46.96 L126.00,47.67 L127.00,48.39 L128.00,49.12 L129.00,49.87 L130.00,50.64 L131.00,51.37 L132.00,52.11 L133.00,52.87 L134.00,53.64 L135.00,54.42 L136.00,55.22 L137.00,56.04 L138.00,56.87 L139.00,57.72 L140.00,58.59 L141.00,59.48 L142.00,60.38 L143.00,61.31 L144.00,62.26 L145.00,63.23 L146.00,64.22 L147.00,65.23 L148.00,66.27 L149.00,67.34 L150.00,68.43 L151.00,69.55 L152.00,70.69 L153.00,71.86 L154.00,73.06 L155.00,74.29 L156.00,75.55 L157.00,76.84 L158.00,78.16 L159.00,79.50 L160.00,80.88 L161.00,82.28 L162.00,83.70 L163.00,85.14 L164.00,86.61 L165.00,88.09 L166.00,89.59 L167.00,91.11 L168.00,92.64 L169.00,94.19 L170.00,95.75 L171.00,97.31 L172.00,98.89 L173.00,100.47 L174.00,102.06 L175.00,103.65 L176.00,105.25 L177.00,106.84 L178.00,108.43 L179.00,110.03 L180.00,111.61 L181.00,113.20 L182.00,114.78 L183.00,116.35 L184.00,117.92 L185.00,119.48 L186.00,121.04 L187.00,122.60 L188.00,124.16 L189.00,125.71 L190.00,127.26 L191.00,128.81 L192.00,130.35 L193.00,131.90 L194.00,133.44 L195.00,134.99 L196.00,136.53 L197.00,138.08 L198.00,139.62 L199.00,141.17 L200.00,142.72 L201.00,144.27 L202.00,145.82 L203.00,147.38 L204.00,148.94 L205.00,150.50 L206.00,152.07 L207.00,153.64 L208.00,155.22 L209.00,156.80 L210.00,158.38 L211.00,159.97 L212.00,161.57 L213.00,163.17 L214.00,164.78 L215.00,166.39 L216.00,168.02 L217.00,169.65 L218.00,171.28 L219.00,172.93 L220.00,174.58 L221.00,176.24 L222.00,177.91 L223.00,179.58 L224.00,181.27 L225.00,182.96 L226.00,184.67 L227.00,186.38 L228.00,188.11 L229.00,189.84 L230.00,191.59 L231.00,193.34 L232.00,195.10 L233.00,196.87 L234.00,198.64 L235.00,200.41 L236.00,202.19 L237.00,203.97 L238.00,205.75 L239.00,207.53 L240.00,209.30 L241.00,211.07 L242.00,212.84 L243.00,214.60 L244.00,216.35 L245.00,218.10 L246.00,219.84 L247.00,221.56 L248.00,223.28 L249.00,224.98 L250.00,226.67 L251.00,228.32 L252.00,229.95 L253.00,231.56 L254.00,233.16 L255.00,234.74 L256.00,236.30 L257.00,237.85 L258.00,239.39 L259.00,240.92 L260.00,242.43 L261.00,243.94 L262.00,245.43 L263.00,246.92 L264.00,248.40 L265.00,249.87 L266.00,251.33 L267.00,252.79 L268.00,254.25 L269.00,255.70 L270.00,257.15 L271.00,258.59 L272.00,260.04 L273.00,261.48 L274.00,262.93 L275.00,264.37 L276.00,265.82 L277.00,267.27 L278.00,268.72 L279.00,270.18 L280.00,271.63 L281.00,273.09 L282.00,274.54 L283.00,275.99 L284.00,277.44 L285.00,278.88 L286.00,280.32 L287.00,281.75 L288.00,283.18 L289.00,284.60 L290.00,286.01 L291.00,287.41 L292.00,288.80 L293.00,290.18 L294.00,291.55 L295.00,292.91 L296.00,294.25 L297.00,295.58 L298.00,296.90 L299.00,298.20 L300.00,299.48 L301.00,300.72 L302.00,301.95 L303.00,303.17 L304.00,304.36 L305.00,305.53 L306.00,306.69 L307.00,307.82 L308.00,308.94 L309.00,310.04 L310.00,311.12 L311.00,312.18 L312.00,313.22 L313.00,314.23 L314.00,315.23 L315.00,316.21 L316.00,317.17 L317.00,318.10 L318.00,319.02 L319.00,319.92 L320.00,320.79 L321.00,321.24 L322.00,321.69 L323.00,322.12 L324.00,322.55 L325.00,322.97 L326.00,323.39 L327.00,323.81 L328.00,324.22 L329.00,324.63 L330.00,325.04 L331.00,325.45 L332.00,325.86 L333.00,326.27 L334.00,326.68 L335.00,327.08 L336.00,327.49 L337.00,327.89 L338.00,328.28 L339.00,328.67 L340.00,329.06 L341.00,329.67 L342.00,330.25 L343.00,330.80 L344.00,331.31 L345.00,331.79 L346.00,332.23 L347.00,332.63 L348.00,332.99 L349.00,333.31 L350.00,333.59 L351.00,333.83 L352.00,334.03 L353.00,334.20 L354.00,334.34 L355.00,334.45 L356.00,334.54 L357.00,334.59 L358.00,334.62 L359.00,334.63 L360.00,334.62 L361.00,334.59 L362.00,334.54 L363.00,334.48 L364.00,334.40 L365.00,334.32 L366.00,334.22 L367.00,334.12 L368.00,334.01 L369.00,333.90 L370.00,333.79 L371.00,333.68 L372.00,333.57 L373.00,333.47 L374.00,333.37 L375.00,333.28 L376.00,333.19 L377.00,333.10 L378.00,333.02 L379.00,332.94 L380.00,332.86 L381.00,332.79 L382.00,332.73 L383.00,332.66 L384.00,332.60 L385.00,332.54 L386.00,332.49 L387.00,332.44 L388.00,332.39 L389.00,332.34 L390.00,332.30 L391.00,332.26 L392.00,332.22 L393.00,332.18 L394.00,332.15 L395.00,332.12 L396.00,332.08 L397.00,332.06 L398.00,332.03 L399.00,332.00 L400.00,331.98 L401.00,331.95 L402.00,331.93 L403.00,331.91 L404.00,331.89 L405.00,331.87 L406.00,331.86 L407.00,331.84 L408.00,331.83 L409.00,331.82 L410.00,331.80 L411.00,331.79 L412.00,331.78 L413.00,331.77 L414.00,331.77 L415.00,331.76 L416.00,331.75 L417.00,331.75 L418.00,331.74 L419.00,331.74 L420.00,331.73 L421.00,331.73 L422.00,331.73 L423.00,331.73 L424.00,331.72 L425.00,331.72 L426.00,331.72 L427.00,331.72 L428.00,331.72 L429.00,331.72 L430.00,331.72 L431.00,331.72 L432.00,331.72 L433.00,331.72 L434.00,331.72 L435.00,331.73 L436.00,331.73 L437.00,331.73" fill="none" stroke="#7a1f50" stroke-width="2.8" stroke-dasharray="8.54 7.56" stroke-linejoin="round"/>
<path d="M78.00,28.67 L79.00,28.74 L80.00,28.82 L81.00,28.91 L82.00,29.01 L83.00,29.13 L84.00,29.26 L85.00,29.41 L86.00,29.57 L87.00,29.75 L88.00,29.94 L89.00,30.15 L90.00,30.37 L91.00,30.61 L92.00,30.86 L93.00,31.13 L94.00,31.41 L95.00,31.70 L96.00,32.02 L97.00,32.35 L98.00,32.70 L99.00,33.07 L100.00,33.44 L101.00,33.84 L102.00,34.24 L103.00,34.66 L104.00,35.10 L105.00,35.54 L106.00,36.01 L107.00,36.48 L108.00,36.96 L109.00,37.46 L110.00,37.97 L111.00,38.50 L112.00,39.03 L113.00,39.58 L114.00,40.14 L115.00,40.71 L116.00,41.30 L117.00,41.89 L118.00,42.51 L119.00,43.13 L120.00,43.77 L121.00,44.42 L122.00,45.08 L123.00,45.75 L124.00,46.44 L125.00,47.15 L126.00,47.87 L127.00,48.60 L128.00,49.35 L129.00,50.11 L130.00,50.88 L131.00,51.62 L132.00,52.36 L133.00,53.13 L134.00,53.90 L135.00,54.69 L136.00,55.50 L137.00,56.32 L138.00,57.15 L139.00,58.01 L140.00,58.88 L141.00,59.78 L142.00,60.69 L143.00,61.62 L144.00,62.58 L145.00,63.55 L146.00,64.55 L147.00,65.57 L148.00,66.62 L149.00,67.69 L150.00,68.79 L151.00,69.91 L152.00,71.06 L153.00,72.24 L154.00,73.45 L155.00,74.69 L156.00,75.95 L157.00,77.25 L158.00,78.58 L159.00,79.94 L160.00,81.32 L161.00,82.73 L162.00,84.16 L163.00,85.61 L164.00,87.09 L165.00,88.58 L166.00,90.09 L167.00,91.62 L168.00,93.16 L169.00,94.72 L170.00,96.29 L171.00,97.86 L172.00,99.45 L173.00,101.04 L174.00,102.64 L175.00,104.24 L176.00,105.84 L177.00,107.44 L178.00,109.05 L179.00,110.65 L180.00,112.25 L181.00,113.84 L182.00,115.43 L183.00,117.01 L184.00,118.58 L185.00,120.16 L186.00,121.73 L187.00,123.29 L188.00,124.85 L189.00,126.41 L190.00,127.97 L191.00,129.52 L192.00,131.08 L193.00,132.63 L194.00,134.18 L195.00,135.73 L196.00,137.28 L197.00,138.83 L198.00,140.38 L199.00,141.93 L200.00,143.48 L201.00,145.04 L202.00,146.59 L203.00,148.15 L204.00,149.71 L205.00,151.28 L206.00,152.85 L207.00,154.42 L208.00,156.00 L209.00,157.58 L210.00,159.16 L211.00,160.75 L212.00,162.35 L213.00,163.95 L214.00,165.56 L215.00,167.18 L216.00,168.80 L217.00,170.43 L218.00,172.06 L219.00,173.71 L220.00,175.36 L221.00,177.02 L222.00,178.68 L223.00,180.36 L224.00,182.04 L225.00,183.74 L226.00,185.44 L227.00,187.16 L228.00,188.88 L229.00,190.62 L230.00,192.36 L231.00,194.12 L232.00,195.88 L233.00,197.64 L234.00,199.41 L235.00,201.19 L236.00,202.97 L237.00,204.75 L238.00,206.52 L239.00,208.30 L240.00,210.08 L241.00,211.85 L242.00,213.62 L243.00,215.38 L244.00,217.13 L245.00,218.88 L246.00,220.61 L247.00,222.34 L248.00,224.05 L249.00,225.75 L250.00,227.44 L251.00,229.08 L252.00,230.71 L253.00,232.32 L254.00,233.91 L255.00,235.49 L256.00,237.05 L257.00,238.60 L258.00,240.13 L259.00,241.65 L260.00,243.16 L261.00,244.66 L262.00,246.15 L263.00,247.63 L264.00,249.11 L265.00,250.57 L266.00,252.03 L267.00,253.48 L268.00,254.93 L269.00,256.38 L270.00,257.82 L271.00,259.26 L272.00,260.70 L273.00,262.14 L274.00,263.58 L275.00,265.02 L276.00,266.47 L277.00,267.91 L278.00,269.36 L279.00,270.81 L280.00,272.26 L281.00,273.72 L282.00,275.17 L283.00,276.61 L284.00,278.06 L285.00,279.50 L286.00,280.94 L287.00,282.37 L288.00,283.80 L289.00,285.21 L290.00,286.62 L291.00,288.02 L292.00,289.42 L293.00,290.80 L294.00,292.16 L295.00,293.52 L296.00,294.86 L297.00,296.19 L298.00,297.51 L299.00,298.80 L300.00,300.08 L301.00,301.33 L302.00,302.56 L303.00,303.77 L304.00,304.96 L305.00,306.14 L306.00,307.29 L307.00,308.43 L308.00,309.54 L309.00,310.64 L310.00,311.72 L311.00,312.77 L312.00,313.81 L313.00,314.82 L314.00,315.82 L315.00,316.79 L316.00,317.75 L317.00,318.68 L318.00,319.59 L319.00,320.48 L320.00,321.35 L321.00,321.67 L322.00,321.99 L323.00,322.31 L324.00,322.62 L325.00,322.93 L326.00,323.24 L327.00,323.55 L328.00,323.87 L329.00,324.19 L330.00,324.51 L331.00,324.84 L332.00,325.18 L333.00,325.52 L334.00,325.87 L335.00,326.22 L336.00,326.57 L337.00,326.93 L338.00,327.29 L339.00,327.66 L340.00,328.02 L341.00,328.68 L342.00,329.30 L343.00,329.90 L344.00,330.46 L345.00,330.98 L346.00,331.46 L347.00,331.90 L348.00,332.30 L349.00,332.65 L350.00,332.97 L351.00,333.24 L352.00,333.48 L353.00,333.68 L354.00,333.85 L355.00,333.98 L356.00,334.09 L357.00,334.17 L358.00,334.22 L359.00,334.25 L360.00,334.26 L361.00,334.25 L362.00,334.22 L363.00,334.18 L364.00,334.12 L365.00,334.05 L366.00,333.97 L367.00,333.89 L368.00,333.80 L369.00,333.70 L370.00,333.60 L371.00,333.51 L372.00,333.41 L373.00,333.32 L374.00,333.24 L375.00,333.15 L376.00,333.08 L377.00,333.00 L378.00,332.93 L379.00,332.87 L380.00,332.80 L381.00,332.74 L382.00,332.69 L383.00,332.64 L384.00,332.58 L385.00,332.54 L386.00,332.49 L387.00,332.45 L388.00,332.41 L389.00,332.37 L390.00,332.33 L391.00,332.30 L392.00,332.27 L393.00,332.23 L394.00,332.20 L395.00,332.17 L396.00,332.14 L397.00,332.12 L398.00,332.09 L399.00,332.06 L400.00,332.04 L401.00,332.01 L402.00,331.99 L403.00,331.97 L404.00,331.95 L405.00,331.93 L406.00,331.91 L407.00,331.89 L408.00,331.87 L409.00,331.85 L410.00,331.84 L411.00,331.82 L412.00,331.81 L413.00,331.79 L414.00,331.78 L415.00,331.77 L416.00,331.76 L417.00,331.75 L418.00,331.74 L419.00,331.73 L420.00,331.73 L421.00,331.72 L422.00,331.72 L423.00,331.72 L424.00,331.71 L425.00,331.71 L426.00,331.71 L427.00,331.71 L428.00,331.71 L429.00,331.71 L430.00,331.71 L431.00,331.72 L432.00,331.72 L433.00,331.72 L434.00,331.72 L435.00,331.73 L436.00,331.73 L437.00,331.73" fill="none" stroke="#33cc33" stroke-width="2.8" stroke-dasharray="8.54 7.56" stroke-linejoin="round"/>
<path d="M78.00,28.46 L79.00,28.49 L80.00,28.53 L81.00,28.58 L82.00,28.64 L83.00,28.70 L84.00,28.78 L85.00,28.86 L86.00,28.96 L87.00,29.06 L88.00,29.17 L89.00,29.30 L90.00,29.43 L91.00,29.58 L92.00,29.73 L93.00,29.90 L94.00,30.07 L95.00,30.26 L96.00,30.46 L97.00,30.67 L98.00,30.89 L99.00,31.12 L100.00,31.37 L101.00,31.62 L102.00,31.89 L103.00,32.17 L104.00,32.46 L105.00,32.77 L106.00,33.09 L107.00,33.42 L108.00,33.76 L109.00,34.11 L110.00,34.48 L111.00,34.86 L112.00,35.26 L113.00,35.66 L114.00,36.08 L115.00,36.51 L116.00,36.96 L117.00,37.41 L118.00,37.88 L119.00,38.36 L120.00,38.85 L121.00,39.35 L122.00,39.87 L123.00,40.39 L124.00,40.93 L125.00,41.48 L126.00,42.04 L127.00,42.61 L128.00,43.19 L129.00,43.78 L130.00,44.38 L131.00,44.99 L132.00,45.62 L133.00,46.25 L134.00,46.89 L135.00,47.55 L136.00,48.22 L137.00,48.90 L138.00,49.59 L139.00,50.30 L140.00,51.03 L141.00,51.77 L142.00,52.52 L143.00,53.29 L144.00,54.08 L145.00,54.89 L146.00,55.72 L147.00,56.56 L148.00,57.43 L149.00,58.32 L150.00,59.22 L151.00,60.15 L152.00,61.10 L153.00,62.08 L154.00,63.08 L155.00,64.10 L156.00,65.15 L157.00,66.23 L158.00,67.33 L159.00,68.45 L160.00,69.60 L161.00,70.76 L162.00,71.95 L163.00,73.16 L164.00,74.39 L165.00,75.63 L166.00,76.89 L167.00,78.16 L168.00,79.45 L169.00,80.75 L170.00,82.06 L171.00,83.38 L172.00,84.71 L173.00,86.05 L174.00,87.40 L175.00,88.75 L176.00,90.11 L177.00,91.47 L178.00,92.83 L179.00,94.20 L180.00,95.56 L181.00,96.93 L182.00,98.29 L183.00,99.66 L184.00,101.02 L185.00,102.39 L186.00,103.76 L187.00,105.13 L188.00,106.50 L189.00,107.88 L190.00,109.26 L191.00,110.65 L192.00,112.04 L193.00,113.44 L194.00,114.84 L195.00,116.26 L196.00,117.68 L197.00,119.10 L198.00,120.54 L199.00,121.99 L200.00,123.44 L201.00,124.91 L202.00,126.39 L203.00,127.88 L204.00,129.38 L205.00,130.89 L206.00,132.42 L207.00,133.96 L208.00,135.51 L209.00,137.08 L210.00,138.65 L211.00,140.24 L212.00,141.84 L213.00,143.44 L214.00,145.06 L215.00,146.69 L216.00,148.33 L217.00,149.98 L218.00,151.64 L219.00,153.30 L220.00,154.98 L221.00,156.66 L222.00,158.36 L223.00,160.06 L224.00,161.77 L225.00,163.48 L226.00,165.21 L227.00,166.94 L228.00,168.67 L229.00,170.41 L230.00,172.16 L231.00,173.92 L232.00,175.68 L233.00,177.44 L234.00,179.21 L235.00,180.97 L236.00,182.75 L237.00,184.52 L238.00,186.29 L239.00,188.07 L240.00,189.84 L241.00,191.62 L242.00,193.39 L243.00,195.16 L244.00,196.93 L245.00,198.70 L246.00,200.46 L247.00,202.22 L248.00,203.97 L249.00,205.72 L250.00,207.46 L251.00,209.20 L252.00,210.93 L253.00,212.65 L254.00,214.36 L255.00,216.07 L256.00,217.77 L257.00,219.46 L258.00,221.15 L259.00,222.82 L260.00,224.49 L261.00,226.16 L262.00,227.81 L263.00,229.46 L264.00,231.10 L265.00,232.74 L266.00,234.37 L267.00,236.00 L268.00,237.62 L269.00,239.23 L270.00,240.83 L271.00,242.44 L272.00,244.03 L273.00,245.62 L274.00,247.21 L275.00,248.79 L276.00,250.36 L277.00,251.93 L278.00,253.49 L279.00,255.05 L280.00,256.60 L281.00,258.15 L282.00,259.68 L283.00,261.21 L284.00,262.74 L285.00,264.25 L286.00,265.75 L287.00,267.24 L288.00,268.72 L289.00,270.20 L290.00,271.65 L291.00,273.10 L292.00,274.54 L293.00,275.96 L294.00,277.37 L295.00,278.76 L296.00,280.14 L297.00,281.50 L298.00,282.85 L299.00,284.18 L300.00,285.50 L301.00,286.80 L302.00,288.08 L303.00,289.35 L304.00,290.59 L305.00,291.83 L306.00,293.05 L307.00,294.25 L308.00,295.44 L309.00,296.62 L310.00,297.78 L311.00,298.93 L312.00,300.07 L313.00,301.19 L314.00,302.31 L315.00,303.41 L316.00,304.50 L317.00,305.58 L318.00,306.66 L319.00,307.62 L320.00,308.59 L321.00,309.54 L322.00,310.50 L323.00,311.44 L324.00,312.39 L325.00,313.33 L326.00,314.26 L327.00,315.19 L328.00,316.12 L329.00,317.03 L330.00,317.94 L331.00,318.84 L332.00,319.72 L333.00,320.59 L334.00,321.44 L335.00,322.28 L336.00,323.10 L337.00,323.89 L338.00,324.67 L339.00,325.47 L340.00,326.25 L341.00,326.99 L342.00,327.69 L343.00,328.37 L344.00,329.00 L345.00,329.59 L346.00,330.15 L347.00,330.65 L348.00,331.12 L349.00,331.54 L350.00,331.91 L351.00,332.24 L352.00,332.53 L353.00,332.79 L354.00,333.00 L355.00,333.18 L356.00,333.33 L357.00,333.46 L358.00,333.55 L359.00,333.62 L360.00,333.66 L361.00,333.68 L362.00,333.69 L363.00,333.67 L364.00,333.64 L365.00,333.60 L366.00,333.55 L367.00,333.49 L368.00,333.42 L369.00,333.35 L370.00,333.28 L371.00,333.21 L372.00,333.13 L373.00,333.07 L374.00,333.00 L375.00,332.94 L376.00,332.89 L377.00,332.84 L378.00,332.79 L379.00,332.74 L380.00,332.70 L381.00,332.66 L382.00,332.62 L383.00,332.59 L384.00,332.56 L385.00,332.52 L386.00,332.50 L387.00,332.47 L388.00,332.44 L389.00,332.41 L390.00,332.39 L391.00,332.37 L392.00,332.34 L393.00,332.32 L394.00,332.29 L395.00,332.27 L396.00,332.25 L397.00,332.22 L398.00,332.20 L399.00,332.17 L400.00,332.14 L401.00,332.12 L402.00,332.09 L403.00,332.06 L404.00,332.04 L405.00,332.01 L406.00,331.99 L407.00,331.96 L408.00,331.94 L409.00,331.91 L410.00,331.89 L411.00,331.87 L412.00,331.84 L413.00,331.82 L414.00,331.80 L415.00,331.79 L416.00,331.77 L417.00,331.75 L418.00,331.74 L419.00,331.73 L420.00,331.72 L421.00,331.71 L422.00,331.70 L423.00,331.70 L424.00,331.69 L425.00,331.69 L426.00,331.69 L427.00,331.69 L428.00,331.69 L429.00,331.70 L430.00,331.70 L431.00,331.70 L432.00,331.71 L433.00,331.71 L434.00,331.72 L435.00,331.73 L436.00,331.73 L437.00,331.74" fill="none" stroke="#4444dd" stroke-width="2.8" stroke-dasharray="2.44 1.59" stroke-linejoin="round"/>
<path d="M78.00,28.34 L79.00,28.36 L80.00,28.38 L81.00,28.41 L82.00,28.44 L83.00,28.48 L84.00,28.53 L85.00,28.58 L86.00,28.64 L87.00,28.71 L88.00,28.78 L89.00,28.86 L90.00,28.96 L91.00,29.06 L92.00,29.17 L93.00,29.28 L94.00,29.41 L95.00,29.55 L96.00,29.70 L97.00,29.86 L98.00,30.03 L99.00,30.21 L100.00,30.40 L101.00,30.61 L102.00,30.82 L103.00,31.05 L104.00,31.29 L105.00,31.55 L106.00,31.81 L107.00,32.09 L108.00,32.39 L109.00,32.70 L110.00,33.02 L111.00,33.36 L112.00,33.71 L113.00,34.07 L114.00,34.45 L115.00,34.84 L116.00,35.24 L117.00,35.66 L118.00,36.08 L119.00,36.52 L120.00,36.98 L121.00,37.44 L122.00,37.91 L123.00,38.40 L124.00,38.90 L125.00,39.41 L126.00,39.93 L127.00,40.45 L128.00,40.99 L129.00,41.54 L130.00,42.10 L131.00,42.67 L132.00,43.25 L133.00,43.84 L134.00,44.44 L135.00,45.05 L136.00,45.67 L137.00,46.30 L138.00,46.94 L139.00,47.60 L140.00,48.27 L141.00,48.96 L142.00,49.66 L143.00,50.37 L144.00,51.10 L145.00,51.85 L146.00,52.62 L147.00,53.40 L148.00,54.20 L149.00,55.02 L150.00,55.86 L151.00,56.72 L152.00,57.60 L153.00,58.51 L154.00,59.43 L155.00,60.38 L156.00,61.35 L157.00,62.35 L158.00,63.36 L159.00,64.41 L160.00,65.47 L161.00,66.55 L162.00,67.65 L163.00,68.77 L164.00,69.91 L165.00,71.06 L166.00,72.23 L167.00,73.41 L168.00,74.61 L169.00,75.82 L170.00,77.04 L171.00,78.27 L172.00,79.51 L173.00,80.76 L174.00,82.02 L175.00,83.28 L176.00,84.55 L177.00,85.82 L178.00,87.10 L179.00,88.38 L180.00,89.66 L181.00,90.95 L182.00,92.23 L183.00,93.52 L184.00,94.81 L185.00,96.10 L186.00,97.39 L187.00,98.70 L188.00,100.00 L189.00,101.31 L190.00,102.63 L191.00,103.96 L192.00,105.29 L193.00,106.63 L194.00,107.99 L195.00,109.35 L196.00,110.72 L197.00,112.10 L198.00,113.50 L199.00,114.90 L200.00,116.32 L201.00,117.76 L202.00,119.21 L203.00,120.67 L204.00,122.15 L205.00,123.64 L206.00,125.16 L207.00,126.68 L208.00,128.22 L209.00,129.78 L210.00,131.35 L211.00,132.93 L212.00,134.53 L213.00,136.14 L214.00,137.76 L215.00,139.39 L216.00,141.04 L217.00,142.69 L218.00,144.35 L219.00,146.03 L220.00,147.71 L221.00,149.40 L222.00,151.10 L223.00,152.81 L224.00,154.53 L225.00,156.25 L226.00,157.98 L227.00,159.71 L228.00,161.45 L229.00,163.19 L230.00,164.94 L231.00,166.70 L232.00,168.45 L233.00,170.21 L234.00,171.98 L235.00,173.74 L236.00,175.51 L237.00,177.28 L238.00,179.05 L239.00,180.82 L240.00,182.60 L241.00,184.37 L242.00,186.14 L243.00,187.92 L244.00,189.69 L245.00,191.46 L246.00,193.23 L247.00,195.00 L248.00,196.77 L249.00,198.53 L250.00,200.29 L251.00,202.05 L252.00,203.81 L253.00,205.56 L254.00,207.30 L255.00,209.05 L256.00,210.78 L257.00,212.52 L258.00,214.24 L259.00,215.97 L260.00,217.68 L261.00,219.40 L262.00,221.10 L263.00,222.81 L264.00,224.50 L265.00,226.19 L266.00,227.87 L267.00,229.55 L268.00,231.22 L269.00,232.89 L270.00,234.54 L271.00,236.19 L272.00,237.84 L273.00,239.47 L274.00,241.10 L275.00,242.72 L276.00,244.34 L277.00,245.94 L278.00,247.54 L279.00,249.13 L280.00,250.71 L281.00,252.28 L282.00,253.84 L283.00,255.39 L284.00,256.93 L285.00,258.46 L286.00,259.98 L287.00,261.48 L288.00,262.98 L289.00,264.46 L290.00,265.93 L291.00,267.38 L292.00,268.83 L293.00,270.25 L294.00,271.67 L295.00,273.07 L296.00,274.45 L297.00,275.82 L298.00,277.17 L299.00,278.51 L300.00,279.83 L301.00,281.13 L302.00,282.42 L303.00,283.69 L304.00,284.94 L305.00,286.19 L306.00,287.41 L307.00,288.63 L308.00,289.83 L309.00,291.02 L310.00,292.20 L311.00,293.38 L312.00,294.54 L313.00,295.69 L314.00,296.84 L315.00,297.98 L316.00,299.11 L317.00,300.24 L318.00,301.36 L319.00,302.39 L320.00,303.41 L321.00,304.43 L322.00,305.46 L323.00,306.48 L324.00,307.51 L325.00,308.55 L326.00,309.58 L327.00,310.62 L328.00,311.65 L329.00,312.68 L330.00,313.71 L331.00,314.73 L332.00,315.74 L333.00,316.74 L334.00,317.72 L335.00,318.69 L336.00,319.64 L337.00,320.57 L338.00,321.48 L339.00,322.42 L340.00,323.33 L341.00,324.20 L342.00,325.04 L343.00,325.84 L344.00,326.60 L345.00,327.32 L346.00,327.99 L347.00,328.61 L348.00,329.18 L349.00,329.70 L350.00,330.17 L351.00,330.60 L352.00,330.98 L353.00,331.31 L354.00,331.61 L355.00,331.87 L356.00,332.09 L357.00,332.28 L358.00,332.43 L359.00,332.56 L360.00,332.67 L361.00,332.74 L362.00,332.80 L363.00,332.84 L364.00,332.86 L365.00,332.86 L366.00,332.85 L367.00,332.84 L368.00,332.81 L369.00,332.78 L370.00,332.75 L371.00,332.71 L372.00,332.68 L373.00,332.65 L374.00,332.62 L375.00,332.60 L376.00,332.58 L377.00,332.57 L378.00,332.55 L379.00,332.54 L380.00,332.53 L381.00,332.52 L382.00,332.52 L383.00,332.51 L384.00,332.51 L385.00,332.50 L386.00,332.50 L387.00,332.50 L388.00,332.49 L389.00,332.49 L390.00,332.48 L391.00,332.48 L392.00,332.47 L393.00,332.46 L394.00,332.44 L395.00,332.43 L396.00,332.41 L397.00,332.39 L398.00,332.37 L399.00,332.34 L400.00,332.32 L401.00,332.29 L402.00,332.25 L403.00,332.22 L404.00,332.19 L405.00,332.15 L406.00,332.12 L407.00,332.08 L408.00,332.05 L409.00,332.01 L410.00,331.97 L411.00,331.94 L412.00,331.91 L413.00,331.87 L414.00,331.84 L415.00,331.81 L416.00,331.79 L417.00,331.76 L418.00,331.74 L419.00,331.72 L420.00,331.70 L421.00,331.69 L422.00,331.68 L423.00,331.67 L424.00,331.66 L425.00,331.66 L426.00,331.66 L427.00,331.66 L428.00,331.67 L429.00,331.67 L430.00,331.68 L431.00,331.69 L432.00,331.70 L433.00,331.71 L434.00,331.72 L435.00,331.73 L436.00,331.74 L437.00,331.75" fill="none" stroke="#d2691e" stroke-width="2.8" stroke-dasharray="8.54 7.56" stroke-linejoin="round"/>
<path d="M78.00,28.26 L79.00,28.26 L80.00,28.27 L81.00,28.28 L82.00,28.30 L83.00,28.32 L84.00,28.35 L85.00,28.38 L86.00,28.41 L87.00,28.45 L88.00,28.50 L89.00,28.56 L90.00,28.62 L91.00,28.69 L92.00,28.76 L93.00,28.85 L94.00,28.94 L95.00,29.04 L96.00,29.16 L97.00,29.28 L98.00,29.41 L99.00,29.56 L100.00,29.71 L101.00,29.88 L102.00,30.06 L103.00,30.25 L104.00,30.45 L105.00,30.67 L106.00,30.90 L107.00,31.15 L108.00,31.41 L109.00,31.69 L110.00,31.98 L111.00,32.28 L112.00,32.60 L113.00,32.93 L114.00,33.28 L115.00,33.64 L116.00,34.02 L117.00,34.40 L118.00,34.80 L119.00,35.21 L120.00,35.64 L121.00,36.07 L122.00,36.52 L123.00,36.98 L124.00,37.45 L125.00,37.93 L126.00,38.42 L127.00,38.92 L128.00,39.43 L129.00,39.95 L130.00,40.48 L131.00,41.02 L132.00,41.57 L133.00,42.12 L134.00,42.69 L135.00,43.26 L136.00,43.85 L137.00,44.44 L138.00,45.05 L139.00,45.67 L140.00,46.30 L141.00,46.95 L142.00,47.61 L143.00,48.28 L144.00,48.97 L145.00,49.68 L146.00,50.40 L147.00,51.14 L148.00,51.89 L149.00,52.67 L150.00,53.46 L151.00,54.27 L152.00,55.10 L153.00,55.95 L154.00,56.83 L155.00,57.72 L156.00,58.64 L157.00,59.57 L158.00,60.54 L159.00,61.52 L160.00,62.52 L161.00,63.54 L162.00,64.58 L163.00,65.64 L164.00,66.71 L165.00,67.80 L166.00,68.90 L167.00,70.02 L168.00,71.15 L169.00,72.30 L170.00,73.45 L171.00,74.62 L172.00,75.80 L173.00,76.98 L174.00,78.17 L175.00,79.37 L176.00,80.58 L177.00,81.79 L178.00,83.01 L179.00,84.23 L180.00,85.45 L181.00,86.67 L182.00,87.90 L183.00,89.13 L184.00,90.37 L185.00,91.61 L186.00,92.85 L187.00,94.10 L188.00,95.36 L189.00,96.62 L190.00,97.90 L191.00,99.18 L192.00,100.47 L193.00,101.77 L194.00,103.09 L195.00,104.41 L196.00,105.75 L197.00,107.10 L198.00,108.47 L199.00,109.85 L200.00,111.24 L201.00,112.65 L202.00,114.08 L203.00,115.52 L204.00,116.99 L205.00,118.47 L206.00,119.97 L207.00,121.48 L208.00,123.02 L209.00,124.57 L210.00,126.13 L211.00,127.72 L212.00,129.31 L213.00,130.92 L214.00,132.54 L215.00,134.18 L216.00,135.83 L217.00,137.48 L218.00,139.15 L219.00,140.83 L220.00,142.52 L221.00,144.22 L222.00,145.92 L223.00,147.64 L224.00,149.36 L225.00,151.08 L226.00,152.81 L227.00,154.55 L228.00,156.29 L229.00,158.04 L230.00,159.79 L231.00,161.54 L232.00,163.29 L233.00,165.05 L234.00,166.81 L235.00,168.57 L236.00,170.34 L237.00,172.11 L238.00,173.88 L239.00,175.65 L240.00,177.42 L241.00,179.19 L242.00,180.97 L243.00,182.74 L244.00,184.52 L245.00,186.29 L246.00,188.07 L247.00,189.85 L248.00,191.62 L249.00,193.40 L250.00,195.17 L251.00,196.95 L252.00,198.72 L253.00,200.49 L254.00,202.26 L255.00,204.03 L256.00,205.79 L257.00,207.56 L258.00,209.32 L259.00,211.07 L260.00,212.82 L261.00,214.57 L262.00,216.31 L263.00,218.05 L264.00,219.78 L265.00,221.51 L266.00,223.23 L267.00,224.95 L268.00,226.66 L269.00,228.36 L270.00,230.05 L271.00,231.74 L272.00,233.41 L273.00,235.08 L274.00,236.74 L275.00,238.39 L276.00,240.03 L277.00,241.67 L278.00,243.29 L279.00,244.90 L280.00,246.50 L281.00,248.09 L282.00,249.66 L283.00,251.23 L284.00,252.78 L285.00,254.33 L286.00,255.85 L287.00,257.37 L288.00,258.87 L289.00,260.36 L290.00,261.84 L291.00,263.30 L292.00,264.75 L293.00,266.18 L294.00,267.60 L295.00,269.00 L296.00,270.39 L297.00,271.76 L298.00,273.12 L299.00,274.45 L300.00,275.78 L301.00,277.08 L302.00,278.37 L303.00,279.65 L304.00,280.91 L305.00,282.15 L306.00,283.39 L307.00,284.61 L308.00,285.83 L309.00,287.03 L310.00,288.22 L311.00,289.41 L312.00,290.59 L313.00,291.76 L314.00,292.93 L315.00,294.10 L316.00,295.26 L317.00,296.42 L318.00,297.58 L319.00,298.74 L320.00,299.90 L321.00,301.06 L322.00,302.22 L323.00,303.38 L324.00,304.55 L325.00,305.73 L326.00,306.91 L327.00,308.08 L328.00,309.26 L329.00,310.43 L330.00,311.59 L331.00,312.75 L332.00,313.89 L333.00,315.02 L334.00,316.13 L335.00,317.22 L336.00,318.28 L337.00,319.33 L338.00,320.35 L339.00,321.33 L340.00,322.29 L341.00,323.21 L342.00,324.09 L343.00,324.94 L344.00,325.74 L345.00,326.50 L346.00,327.21 L347.00,327.88 L348.00,328.49 L349.00,329.05 L350.00,329.55 L351.00,330.01 L352.00,330.42 L353.00,330.79 L354.00,331.11 L355.00,331.40 L356.00,331.64 L357.00,331.86 L358.00,332.04 L359.00,332.19 L360.00,332.31 L361.00,332.41 L362.00,332.48 L363.00,332.54 L364.00,332.57 L365.00,332.60 L366.00,332.60 L367.00,332.60 L368.00,332.59 L369.00,332.57 L370.00,332.55 L371.00,332.53 L372.00,332.52 L373.00,332.50 L374.00,332.49 L375.00,332.48 L376.00,332.47 L377.00,332.47 L378.00,332.47 L379.00,332.47 L380.00,332.47 L381.00,332.48 L382.00,332.48 L383.00,332.49 L384.00,332.49 L385.00,332.50 L386.00,332.50 L387.00,332.51 L388.00,332.51 L389.00,332.52 L390.00,332.52 L391.00,332.52 L392.00,332.51 L393.00,332.51 L394.00,332.50 L395.00,332.49 L396.00,332.47 L397.00,332.45 L398.00,332.43 L399.00,332.41 L400.00,332.38 L401.00,332.35 L402.00,332.31 L403.00,332.28 L404.00,332.24 L405.00,332.20 L406.00,332.16 L407.00,332.13 L408.00,332.09 L409.00,332.05 L410.00,332.01 L411.00,331.97 L412.00,331.93 L413.00,331.89 L414.00,331.86 L415.00,331.82 L416.00,331.79 L417.00,331.76 L418.00,331.74 L419.00,331.71 L420.00,331.70 L421.00,331.68 L422.00,331.67 L423.00,331.66 L424.00,331.65 L425.00,331.65 L426.00,331.65 L427.00,331.65 L428.00,331.66 L429.00,331.66 L430.00,331.67 L431.00,331.68 L432.00,331.69 L433.00,331.70 L434.00,331.72 L435.00,331.73 L436.00,331.74 L437.00,331.75" fill="none" stroke="#ee8844" stroke-width="3" stroke-linejoin="round"/>
<path d="M78.00,28.67 L79.00,28.74 L80.00,28.81 L81.00,28.90 L82.00,29.00 L83.00,29.12 L84.00,29.25 L85.00,29.39 L86.00,29.55 L87.00,29.72 L88.00,29.90 L89.00,30.10 L90.00,30.31 L91.00,30.54 L92.00,30.78 L93.00,31.03 L94.00,31.30 L95.00,31.58 L96.00,31.87 L97.00,32.17 L98.00,32.49 L99.00,32.82 L100.00,33.16 L101.00,33.51 L102.00,33.88 L103.00,34.25 L104.00,34.64 L105.00,35.04 L106.00,35.45 L107.00,35.87 L108.00,36.30 L109.00,36.75 L110.00,37.20 L111.00,37.66 L112.00,38.14 L113.00,38.62 L114.00,39.12 L115.00,39.63 L116.00,40.14 L117.00,40.67 L118.00,41.22 L119.00,41.77 L120.00,42.33 L121.00,42.91 L122.00,43.49 L123.00,44.09 L124.00,44.70 L125.00,45.32 L126.00,45.95 L127.00,46.60 L128.00,47.26 L129.00,47.93 L130.00,48.61 L131.00,49.30 L132.00,50.00 L133.00,50.72 L134.00,51.45 L135.00,52.20 L136.00,52.95 L137.00,53.73 L138.00,54.52 L139.00,55.32 L140.00,56.14 L141.00,56.98 L142.00,57.84 L143.00,58.72 L144.00,59.62 L145.00,60.54 L146.00,61.48 L147.00,62.44 L148.00,63.43 L149.00,64.43 L150.00,65.47 L151.00,66.52 L152.00,67.61 L153.00,68.72 L154.00,69.85 L155.00,71.02 L156.00,72.21 L157.00,73.43 L158.00,74.68 L159.00,75.96 L160.00,77.26 L161.00,78.59 L162.00,79.94 L163.00,81.31 L164.00,82.70 L165.00,84.11 L166.00,85.54 L167.00,86.98 L168.00,88.43 L169.00,89.90 L170.00,91.38 L171.00,92.88 L172.00,94.38 L173.00,95.88 L174.00,97.40 L175.00,98.91 L176.00,100.43 L177.00,101.96 L178.00,103.48 L179.00,105.00 L180.00,106.52 L181.00,108.04 L182.00,109.55 L183.00,111.06 L184.00,112.57 L185.00,114.07 L186.00,115.57 L187.00,117.08 L188.00,118.58 L189.00,120.08 L190.00,121.57 L191.00,123.07 L192.00,124.58 L193.00,126.08 L194.00,127.58 L195.00,129.09 L196.00,130.59 L197.00,132.11 L198.00,133.62 L199.00,135.14 L200.00,136.66 L201.00,138.19 L202.00,139.72 L203.00,141.26 L204.00,142.80 L205.00,144.35 L206.00,145.91 L207.00,147.48 L208.00,149.05 L209.00,150.62 L210.00,152.21 L211.00,153.80 L212.00,155.40 L213.00,157.01 L214.00,158.62 L215.00,160.25 L216.00,161.88 L217.00,163.52 L218.00,165.16 L219.00,166.82 L220.00,168.48 L221.00,170.15 L222.00,171.83 L223.00,173.51 L224.00,175.21 L225.00,176.92 L226.00,178.63 L227.00,180.35 L228.00,182.08 L229.00,183.82 L230.00,185.57 L231.00,187.33 L232.00,189.09 L233.00,190.86 L234.00,192.63 L235.00,194.41 L236.00,196.19 L237.00,197.97 L238.00,199.75 L239.00,201.53 L240.00,203.30 L241.00,205.08 L242.00,206.85 L243.00,208.62 L244.00,210.38 L245.00,212.14 L246.00,213.88 L247.00,215.62 L248.00,217.35 L249.00,219.07 L250.00,220.78 L251.00,222.47 L252.00,224.16 L253.00,225.82 L254.00,227.48 L255.00,229.12 L256.00,230.74 L257.00,232.36 L258.00,233.96 L259.00,235.55 L260.00,237.13 L261.00,238.71 L262.00,240.27 L263.00,241.82 L264.00,243.37 L265.00,244.91 L266.00,246.44 L267.00,247.97 L268.00,249.49 L269.00,251.01 L270.00,252.52 L271.00,254.03 L272.00,255.53 L273.00,257.04 L274.00,258.54 L275.00,260.04 L276.00,261.54 L277.00,263.05 L278.00,264.55 L279.00,266.05 L280.00,267.55 L281.00,269.05 L282.00,270.54 L283.00,272.03 L284.00,273.52 L285.00,275.00 L286.00,276.47 L287.00,277.94 L288.00,279.40 L289.00,280.85 L290.00,282.29 L291.00,283.72 L292.00,285.14 L293.00,286.55 L294.00,287.95 L295.00,289.33 L296.00,290.70 L297.00,292.06 L298.00,293.40 L299.00,294.73 L300.00,296.03 L301.00,297.32 L302.00,298.60 L303.00,299.85 L304.00,301.09 L305.00,302.31 L306.00,303.51 L307.00,304.69 L308.00,305.86 L309.00,307.00 L310.00,308.13 L311.00,309.24 L312.00,310.33 L313.00,311.41 L314.00,312.46 L315.00,313.49 L316.00,314.51 L317.00,315.51 L318.00,316.49 L319.00,317.45 L320.00,318.39 L321.00,319.31 L322.00,320.21 L323.00,321.09 L324.00,321.96 L325.00,322.80 L326.00,323.62 L327.00,324.43 L328.00,325.21 L329.00,325.97 L330.00,326.71 L331.00,327.42 L332.00,328.11 L333.00,328.78 L334.00,329.42 L335.00,330.03 L336.00,330.62 L337.00,331.18 L338.00,331.72 L339.00,332.22 L340.00,332.70 L341.00,333.15 L342.00,333.57 L343.00,333.95 L344.00,334.31 L345.00,334.63 L346.00,334.93 L347.00,335.18 L348.00,335.41 L349.00,335.60 L350.00,335.76 L351.00,335.88 L352.00,335.98 L353.00,336.04 L354.00,336.08 L355.00,336.10 L356.00,336.09 L357.00,336.06 L358.00,336.01 L359.00,335.95 L360.00,335.86 L361.00,335.76 L362.00,335.65 L363.00,335.52 L364.00,335.39 L365.00,335.25 L366.00,335.10 L367.00,334.94 L368.00,334.78 L369.00,334.62 L370.00,334.46 L371.00,334.30 L372.00,334.15 L373.00,333.99 L374.00,333.85 L375.00,333.71 L376.00,333.57 L377.00,333.44 L378.00,333.31 L379.00,333.19 L380.00,333.08 L381.00,332.96 L382.00,332.86 L383.00,332.76 L384.00,332.66 L385.00,332.57 L386.00,332.48 L387.00,332.40 L388.00,332.32 L389.00,332.25 L390.00,332.18 L391.00,332.12 L392.00,332.06 L393.00,332.01 L394.00,331.96 L395.00,331.92 L396.00,331.88 L397.00,331.84 L398.00,331.81 L399.00,331.78 L400.00,331.76 L401.00,331.74 L402.00,331.73 L403.00,331.71 L404.00,331.70 L405.00,331.70 L406.00,331.69 L407.00,331.69 L408.00,331.69 L409.00,331.69 L410.00,331.70 L411.00,331.70 L412.00,331.71 L413.00,331.71 L414.00,331.72 L415.00,331.73 L416.00,331.73 L417.00,331.74 L418.00,331.75 L419.00,331.75 L420.00,331.76 L421.00,331.76 L422.00,331.76 L423.00,331.76 L424.00,331.76 L425.00,331.76 L426.00,331.76 L427.00,331.76 L428.00,331.76 L429.00,331.75 L430.00,331.75 L431.00,331.74 L432.00,331.74 L433.00,331.73 L434.00,331.73 L435.00,331.72 L436.00,331.72 L437.00,331.71" fill="none" stroke="#9933ff" stroke-width="3" stroke-linejoin="round"/>
</g>
<rect x="117.7" y="222.9" width="127.20" height="120.50" fill="#fff" stroke="none"/>
<g clip-path="url(#ci)">
<path d="M117.7,291.8 Q181.3,304.25 244.9,316.5" fill="none" stroke="#3a5fc0" stroke-width="2.8" stroke-dasharray="7.28 6.45" stroke-linejoin="round"/>
<path d="M117.7,273.8 Q181.3,285.15 244.9,297.5" fill="none" stroke="#1e8a1e" stroke-width="2.8" stroke-dasharray="7.28 6.45" stroke-linejoin="round"/>
<path d="M117.7,270.4 Q181.3,278.2 244.9,292.0" fill="none" stroke="#f80000" stroke-width="3" stroke-linejoin="round"/>
<path d="M117.7,275.1 Q181.3,285.44999999999993 244.9,297.6" fill="none" stroke="#f4894a" stroke-width="2.8" stroke-dasharray="7.28 6.45" stroke-linejoin="round"/>
<path d="M117.7,295.8 Q181.3,307.95 244.9,320.3" fill="none" stroke="#33cc33" stroke-width="2.8" stroke-dasharray="7.28 6.45" stroke-linejoin="round"/>
<path d="M117.7,291.0 Q181.3,303.35 244.9,315.5" fill="none" stroke="#4444dd" stroke-width="2.8" stroke-dasharray="2.08 1.35" stroke-linejoin="round"/>
<path d="M117.7,288.6 Q181.3,301.19999999999993 244.9,313.8" fill="none" stroke="#d2691e" stroke-width="2.8" stroke-dasharray="7.28 6.45" stroke-linejoin="round"/>
<path d="M117.7,287.2 Q181.3,299.35 244.9,312.5" fill="none" stroke="#ee8844" stroke-width="3" stroke-linejoin="round"/>
<path d="M117.7,293.0 Q181.3,305.55000000000007 244.9,318.3" fill="none" stroke="#9933ff" stroke-width="3" stroke-linejoin="round"/>
</g>
<g stroke="#2e2e2e" stroke-width="1">
<line x1="139.00" y1="343.4" x2="139.00" y2="340.9" />
<line x1="139.00" y1="222.9" x2="139.00" y2="225.4" />
<line x1="203.00" y1="343.4" x2="203.00" y2="340.9" />
<line x1="203.00" y1="222.9" x2="203.00" y2="225.4" />
<line x1="117.7" y1="238.90" x2="120.2" y2="238.90" />
<line x1="244.9" y1="238.90" x2="242.4" y2="238.90" />
<line x1="117.7" y1="271.74" x2="120.2" y2="271.74" />
<line x1="244.9" y1="271.74" x2="242.4" y2="271.74" />
<line x1="117.7" y1="304.57" x2="120.2" y2="304.57" />
<line x1="244.9" y1="304.57" x2="242.4" y2="304.57" />
<line x1="117.7" y1="337.40" x2="120.2" y2="337.40" />
<line x1="244.9" y1="337.40" x2="242.4" y2="337.40" />
</g>
<rect x="117.7" y="222.9" width="127.20" height="120.50" fill="none" stroke="#2e2e2e" stroke-width="1.6"/>
<text x="72.00" y="408.0" text-anchor="middle" class="tl">0</text>
<text x="132.88" y="408.0" text-anchor="middle" class="tl">10</text>
<text x="193.77" y="408.0" text-anchor="middle" class="tl">20</text>
<text x="254.65" y="408.0" text-anchor="middle" class="tl">30</text>
<text x="315.53" y="408.0" text-anchor="middle" class="tl">40</text>
<text x="376.42" y="408.0" text-anchor="middle" class="tl">50</text>
<text x="437.30" y="408.0" text-anchor="middle" class="tl">60</text>
<text x="64.4" y="35.15" text-anchor="end" class="tl">20</text>
<text x="64.4" y="85.72" text-anchor="end" class="tl">0</text>
<text x="64.4" y="136.29" text-anchor="end" class="tl">-20</text>
<text x="64.4" y="186.86" text-anchor="end" class="tl">-40</text>
<text x="64.4" y="237.44" text-anchor="end" class="tl">-60</text>
<text x="64.4" y="288.01" text-anchor="end" class="tl">-80</text>
<text x="64.4" y="338.58" text-anchor="end" class="tl">-100</text>
<text x="64.4" y="389.15" text-anchor="end" class="tl">-120</text>
<text x="139.00" y="364.6" text-anchor="middle" class="ti">25</text>
<text x="203.00" y="364.6" text-anchor="middle" class="ti">30</text>
<text x="112.0" y="245.60" text-anchor="end" class="ti">50</text>
<text x="112.0" y="278.44" text-anchor="end" class="ti">0</text>
<text x="112.0" y="311.27" text-anchor="end" class="ti">-50</text>
<text x="112.0" y="344.10" text-anchor="end" class="ti">-100</text>
<text transform="translate(136,25.3) scale(1,1.08)" class="se" style="font-size:24px">Y-direction displacement curve</text>
<text x="195" y="428.4" class="se" style="font-size:20px">Number of iterations</text>
<text transform="translate(23.2,364.5) rotate(-90)" class="se" style="font-size:20.3px">Y-direction moving distance (m)</text>
<rect x="438.9" y="89.6" width="104.30" height="277.50" fill="#fff" stroke="#1a1a1a" stroke-width="1.2"/>
<path d="M442.5,102.20 L484.2,102.20" fill="none" stroke="#a0651a" stroke-width="2.8" stroke-dasharray="7 6.2" stroke-linejoin="round"/>
<text x="491.5" y="110.10" class="lg">UAV 1</text>
<path d="M442.5,123.24 L484.2,123.24" fill="none" stroke="#3a5fc0" stroke-width="2.8" stroke-dasharray="7 6.2" stroke-linejoin="round"/>
<text x="491.5" y="130.97" class="lg">UAV 2</text>
<path d="M442.5,144.28 L484.2,144.28" fill="none" stroke="#1e8a1e" stroke-width="2.8" stroke-dasharray="7 6.2" stroke-linejoin="round"/>
<text x="491.5" y="151.84" class="lg">UAV 3</text>
<path d="M442.5,165.32 L484.2,165.32" fill="none" stroke="#ff8c00" stroke-width="2.8" stroke-dasharray="2 1.3" stroke-linejoin="round"/>
<text x="491.5" y="172.71" class="lg">UAV 4</text>
<path d="M442.5,186.36 L484.2,186.36" fill="none" stroke="#9b30f0" stroke-width="2.8" stroke-dasharray="7 6.2" stroke-linejoin="round"/>
<text x="491.5" y="193.58" class="lg">UAV 5</text>
<path d="M442.8,207.40 L483.6,207.40" fill="none" stroke="#f80000" stroke-width="3" stroke-linejoin="round" stroke-linecap="round"/>
<text x="491.5" y="214.45" class="lg">UAV 6</text>
<path d="M442.5,228.44 L484.2,228.44" fill="none" stroke="#f4894a" stroke-width="2.8" stroke-dasharray="7 6.2" stroke-linejoin="round"/>
<text x="491.5" y="235.32" class="lg">UAV 7</text>
<path d="M442.5,249.48 L484.2,249.48" fill="none" stroke="#7a1f50" stroke-width="2.8" stroke-dasharray="7 6.2" stroke-linejoin="round"/>
<text x="491.5" y="256.19" class="lg">UAV 8</text>
<path d="M442.5,270.52 L484.2,270.52" fill="none" stroke="#33cc33" stroke-width="2.8" stroke-dasharray="7 6.2" stroke-linejoin="round"/>
<text x="491.5" y="277.06" class="lg">UAV 9</text>
<path d="M442.5,291.56 L484.2,291.56" fill="none" stroke="#4444dd" stroke-width="2.8" stroke-dasharray="2 1.3" stroke-linejoin="round"/>
<text x="491.5" y="297.93" class="lg">UAV 10</text>
<path d="M442.5,312.60 L484.2,312.60" fill="none" stroke="#d2691e" stroke-width="2.8" stroke-dasharray="7 6.2" stroke-linejoin="round"/>
<text x="491.5" y="318.80" class="lg">UAV 11</text>
<path d="M442.8,333.64 L483.6,333.64" fill="none" stroke="#ee8844" stroke-width="3" stroke-linejoin="round" stroke-linecap="round"/>
<text x="491.5" y="339.67" class="lg">UAV 12</text>
<path d="M442.8,354.68 L483.6,354.68" fill="none" stroke="#9933ff" stroke-width="3" stroke-linejoin="round" stroke-linecap="round"/>
<text x="491.5" y="360.54" class="lg">UAV 13</text>
</svg>
</body></html>
